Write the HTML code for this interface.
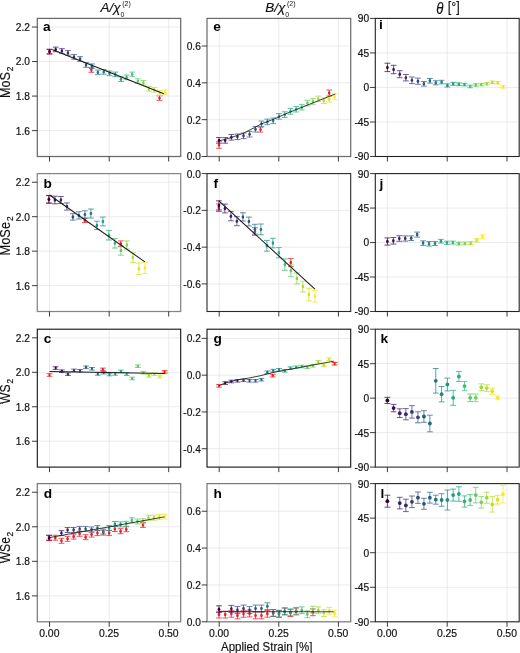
<!DOCTYPE html>
<html lang="en"><head><meta charset="utf-8"><title>Figure</title>
<style>html,body{margin:0;padding:0;background:#fff}svg{display:block}</style>
</head><body>
<svg width="520" height="653" viewBox="0 0 520 653" font-family='"Liberation Sans", sans-serif'>
<rect width="520" height="653" fill="#fff"/>
<g>
<path d="M49.5 18.4V156.5M109.2 18.4V156.5M168.7 18.4V156.5M37.3 27.03H180.7M37.3 61.56H180.7M37.3 96.08H180.7M37.3 130.61H180.7" stroke="#e2e2e2" stroke-width="0.7" fill="none"/>
<g stroke="#ee1c25" stroke-width="0.75" fill="#ee1c25"><path d="M49.5 49.5V54.1M46.6 49.5H52.4M46.6 54.1H52.4" fill="none"/><ellipse cx="49.5" cy="51.8" rx="1.25" ry="1.69" stroke="none"/></g>
<g stroke="#ee1c25" stroke-width="0.75" fill="#ee1c25"><path d="M91.4 67.7V72.3M88.5 67.7H94.3M88.5 72.3H94.3" fill="none"/><ellipse cx="91.4" cy="70" rx="1.25" ry="1.69" stroke="none"/></g>
<g stroke="#ee1c25" stroke-width="0.75" fill="#ee1c25"><path d="M159.5 95.8V100.4M156.6 95.8H162.4M156.6 100.4H162.4" fill="none"/><ellipse cx="159.5" cy="98.1" rx="1.25" ry="1.69" stroke="none"/></g>
<g stroke="#440154" stroke-width="0.75" fill="#32003e"><path d="M49.5 49.2V53.8M46.6 49.2H52.4M46.6 53.8H52.4" fill="none"/><ellipse cx="49.5" cy="51.5" rx="1.25" ry="1.69" stroke="none"/></g>
<g stroke="#471365" stroke-width="0.75" fill="#360e4d"><path d="M55.7 47.1V51.7M52.8 47.1H58.6M52.8 51.7H58.6" fill="none"/><ellipse cx="55.7" cy="49.4" rx="1.25" ry="1.69" stroke="none"/></g>
<g stroke="#482475" stroke-width="0.75" fill="#381c5c"><path d="M61.85 48.7V53.3M58.95 48.7H64.75M58.95 53.3H64.75" fill="none"/><ellipse cx="61.85" cy="51" rx="1.25" ry="1.69" stroke="none"/></g>
<g stroke="#463480" stroke-width="0.75" fill="#382a67"><path d="M67.96 50.6V55.2M65.06 50.6H70.86M65.06 55.2H70.86" fill="none"/><ellipse cx="67.96" cy="52.9" rx="1.25" ry="1.69" stroke="none"/></g>
<g stroke="#414487" stroke-width="0.75" fill="#363870"><path d="M74.03 54.6V59.2M71.13 54.6H76.93M71.13 59.2H76.93" fill="none"/><ellipse cx="74.03" cy="56.9" rx="1.25" ry="1.69" stroke="none"/></g>
<g stroke="#3b528b" stroke-width="0.75" fill="#324677"><path d="M80.05 56.7V61.3M77.15 56.7H82.95M77.15 61.3H82.95" fill="none"/><ellipse cx="80.05" cy="59" rx="1.25" ry="1.69" stroke="none"/></g>
<g stroke="#355f8d" stroke-width="0.75" fill="#2e537c"><path d="M86.03 62.7V67.3M83.13 62.7H88.93M83.13 67.3H88.93" fill="none"/><ellipse cx="86.03" cy="65" rx="1.25" ry="1.69" stroke="none"/></g>
<g stroke="#2f6c8e" stroke-width="0.75" fill="#2a6180"><path d="M91.96 63.95V68.55M89.06 63.95H94.86M89.06 68.55H94.86" fill="none"/><ellipse cx="91.96" cy="66.25" rx="1.25" ry="1.69" stroke="none"/></g>
<g stroke="#2a788e" stroke-width="0.75" fill="#276f83"><path d="M97.85 70.1V74.7M94.95 70.1H100.75M94.95 74.7H100.75" fill="none"/><ellipse cx="97.85" cy="72.4" rx="1.25" ry="1.69" stroke="none"/></g>
<g stroke="#25848e" stroke-width="0.75" fill="#237d87"><path d="M103.7 69.6V74.2M100.8 69.6H106.6M100.8 74.2H106.6" fill="none"/><ellipse cx="103.7" cy="71.9" rx="1.25" ry="1.69" stroke="none"/></g>
<g stroke="#21918c" stroke-width="0.75" fill="#208d88"><path d="M109.5 71V75.6M106.6 71H112.4M106.6 75.6H112.4" fill="none"/><ellipse cx="109.5" cy="73.3" rx="1.25" ry="1.69" stroke="none"/></g>
<g stroke="#1e9c89" stroke-width="0.75" fill="#1e9c89"><path d="M115.26 72.1V76.7M112.36 72.1H118.16M112.36 76.7H118.16" fill="none"/><ellipse cx="115.26" cy="74.4" rx="1.25" ry="1.69" stroke="none"/></g>
<g stroke="#22a884" stroke-width="0.75" fill="#22a884"><path d="M120.97 76.9V81.5M118.07 76.9H123.87M118.07 81.5H123.87" fill="none"/><ellipse cx="120.97" cy="79.2" rx="1.25" ry="1.69" stroke="none"/></g>
<g stroke="#2fb47c" stroke-width="0.75" fill="#2fb47c"><path d="M126.64 75.1V79.7M123.74 75.1H129.54M123.74 79.7H129.54" fill="none"/><ellipse cx="126.64" cy="77.4" rx="1.25" ry="1.69" stroke="none"/></g>
<g stroke="#44bf70" stroke-width="0.75" fill="#44bf70"><path d="M132.27 72.1V76.7M129.37 72.1H135.17M129.37 76.7H135.17" fill="none"/><ellipse cx="132.27" cy="74.4" rx="1.25" ry="1.69" stroke="none"/></g>
<g stroke="#5ec962" stroke-width="0.75" fill="#5ec962"><path d="M137.85 78.8V83.4M134.95 78.8H140.75M134.95 83.4H140.75" fill="none"/><ellipse cx="137.85" cy="81.1" rx="1.25" ry="1.69" stroke="none"/></g>
<g stroke="#7ad151" stroke-width="0.75" fill="#7ad151"><path d="M143.39 80.45V85.05M140.49 80.45H146.29M140.49 85.05H146.29" fill="none"/><ellipse cx="143.39" cy="82.75" rx="1.25" ry="1.69" stroke="none"/></g>
<g stroke="#9bd93c" stroke-width="0.75" fill="#9bd93c"><path d="M148.88 86.45V91.05M145.98 86.45H151.78M145.98 91.05H151.78" fill="none"/><ellipse cx="148.88" cy="88.75" rx="1.25" ry="1.69" stroke="none"/></g>
<g stroke="#bddf26" stroke-width="0.75" fill="#bddf26"><path d="M154.33 87.45V92.05M151.43 87.45H157.23M151.43 92.05H157.23" fill="none"/><ellipse cx="154.33" cy="89.75" rx="1.25" ry="1.69" stroke="none"/></g>
<g stroke="#dfe318" stroke-width="0.75" fill="#dfe318"><path d="M159.74 90.8V95.4M156.84 90.8H162.64M156.84 95.4H162.64" fill="none"/><ellipse cx="159.74" cy="93.1" rx="1.25" ry="1.69" stroke="none"/></g>
<g stroke="#fde725" stroke-width="0.75" fill="#fde725"><path d="M165.1 90.2V94.8M162.2 90.2H168M162.2 94.8H168" fill="none"/><ellipse cx="165.1" cy="92.5" rx="1.25" ry="1.69" stroke="none"/></g>
<path d="M52.5 49.8L163.8 93.8" stroke="#1a1a1a" stroke-width="1.05" fill="none" stroke-linejoin="round"/>
<rect x="37.3" y="18.4" width="143.4" height="138.1" fill="none" stroke="#6a6a6a" stroke-width="1.25"/>
<path d="M49.5 156.5v5M109.2 156.5v5M168.7 156.5v5M37.3 27.03h-5.3M37.3 61.56h-5.3M37.3 96.08h-5.3M37.3 130.61h-5.3" stroke="#262626" stroke-width="0.9" fill="none"/>
<text transform="translate(30 30.93) scale(0.91 1)" font-size="11.2" text-anchor="end" fill="#111" stroke="#111" stroke-width="0.2">2.2</text>
<text transform="translate(30 65.46) scale(0.91 1)" font-size="11.2" text-anchor="end" fill="#111" stroke="#111" stroke-width="0.2">2.0</text>
<text transform="translate(30 99.98) scale(0.91 1)" font-size="11.2" text-anchor="end" fill="#111" stroke="#111" stroke-width="0.2">1.8</text>
<text transform="translate(30 134.51) scale(0.91 1)" font-size="11.2" text-anchor="end" fill="#111" stroke="#111" stroke-width="0.2">1.6</text>
<text x="43" y="30.8" font-size="13.7" font-weight="bold" fill="#000">a</text>
</g>
<g>
<path d="M219.2 18.4V156.5M278.8 18.4V156.5M338.4 18.4V156.5M207 46.02H350.7M207 82.85H350.7M207 119.67H350.7" stroke="#e2e2e2" stroke-width="0.7" fill="none"/>
<g stroke="#ee1c25" stroke-width="0.75" fill="#ee1c25"><path d="M219 141.7V148.3M216.1 141.7H221.9M216.1 148.3H221.9" fill="none"/><ellipse cx="219" cy="145" rx="1.25" ry="1.69" stroke="none"/></g>
<g stroke="#ee1c25" stroke-width="0.75" fill="#ee1c25"><path d="M260.5 127.1V132.1M257.6 127.1H263.4M257.6 132.1H263.4" fill="none"/><ellipse cx="260.5" cy="129.6" rx="1.25" ry="1.69" stroke="none"/></g>
<g stroke="#ee1c25" stroke-width="0.75" fill="#ee1c25"><path d="M329.2 90V96M326.3 90H332.1M326.3 96H332.1" fill="none"/><ellipse cx="329.2" cy="93" rx="1.25" ry="1.69" stroke="none"/></g>
<g stroke="#440154" stroke-width="0.75" fill="#32003e"><path d="M219 137.6V143.2M216.1 137.6H221.9M216.1 143.2H221.9" fill="none"/><ellipse cx="219" cy="140.4" rx="1.25" ry="1.69" stroke="none"/></g>
<g stroke="#471365" stroke-width="0.75" fill="#360e4d"><path d="M225.2 137.6V143.2M222.3 137.6H228.1M222.3 143.2H228.1" fill="none"/><ellipse cx="225.2" cy="140.4" rx="1.25" ry="1.69" stroke="none"/></g>
<g stroke="#482475" stroke-width="0.75" fill="#381c5c"><path d="M231.35 134.5V140.1M228.45 134.5H234.25M228.45 140.1H234.25" fill="none"/><ellipse cx="231.35" cy="137.3" rx="1.25" ry="1.69" stroke="none"/></g>
<g stroke="#463480" stroke-width="0.75" fill="#382a67"><path d="M237.46 134V139.6M234.56 134H240.36M234.56 139.6H240.36" fill="none"/><ellipse cx="237.46" cy="136.8" rx="1.25" ry="1.69" stroke="none"/></g>
<g stroke="#414487" stroke-width="0.75" fill="#363870"><path d="M243.53 133V138.6M240.63 133H246.43M240.63 138.6H246.43" fill="none"/><ellipse cx="243.53" cy="135.8" rx="1.25" ry="1.69" stroke="none"/></g>
<g stroke="#3b528b" stroke-width="0.75" fill="#324677"><path d="M249.55 131.4V137M246.65 131.4H252.45M246.65 137H252.45" fill="none"/><ellipse cx="249.55" cy="134.2" rx="1.25" ry="1.69" stroke="none"/></g>
<g stroke="#355f8d" stroke-width="0.75" fill="#2e537c"><path d="M255.53 126.4V132M252.63 126.4H258.43M252.63 132H258.43" fill="none"/><ellipse cx="255.53" cy="129.2" rx="1.25" ry="1.69" stroke="none"/></g>
<g stroke="#2f6c8e" stroke-width="0.75" fill="#2a6180"><path d="M261.46 121.1V126.7M258.56 121.1H264.36M258.56 126.7H264.36" fill="none"/><ellipse cx="261.46" cy="123.9" rx="1.25" ry="1.69" stroke="none"/></g>
<g stroke="#2a788e" stroke-width="0.75" fill="#276f83"><path d="M267.35 119.1V124.7M264.45 119.1H270.25M264.45 124.7H270.25" fill="none"/><ellipse cx="267.35" cy="121.9" rx="1.25" ry="1.69" stroke="none"/></g>
<g stroke="#25848e" stroke-width="0.75" fill="#237d87"><path d="M273.2 118V123.6M270.3 118H276.1M270.3 123.6H276.1" fill="none"/><ellipse cx="273.2" cy="120.8" rx="1.25" ry="1.69" stroke="none"/></g>
<g stroke="#21918c" stroke-width="0.75" fill="#208d88"><path d="M279 113.6V119.2M276.1 113.6H281.9M276.1 119.2H281.9" fill="none"/><ellipse cx="279" cy="116.4" rx="1.25" ry="1.69" stroke="none"/></g>
<g stroke="#1e9c89" stroke-width="0.75" fill="#1e9c89"><path d="M284.76 111.8V117.4M281.86 111.8H287.66M281.86 117.4H287.66" fill="none"/><ellipse cx="284.76" cy="114.6" rx="1.25" ry="1.69" stroke="none"/></g>
<g stroke="#22a884" stroke-width="0.75" fill="#22a884"><path d="M290.47 108.6V114.2M287.57 108.6H293.37M287.57 114.2H293.37" fill="none"/><ellipse cx="290.47" cy="111.4" rx="1.25" ry="1.69" stroke="none"/></g>
<g stroke="#2fb47c" stroke-width="0.75" fill="#2fb47c"><path d="M296.14 106.4V112M293.24 106.4H299.04M293.24 112H299.04" fill="none"/><ellipse cx="296.14" cy="109.2" rx="1.25" ry="1.69" stroke="none"/></g>
<g stroke="#44bf70" stroke-width="0.75" fill="#44bf70"><path d="M301.77 104.4V110M298.87 104.4H304.67M298.87 110H304.67" fill="none"/><ellipse cx="301.77" cy="107.2" rx="1.25" ry="1.69" stroke="none"/></g>
<g stroke="#5ec962" stroke-width="0.75" fill="#5ec962"><path d="M307.35 100.3V105.9M304.45 100.3H310.25M304.45 105.9H310.25" fill="none"/><ellipse cx="307.35" cy="103.1" rx="1.25" ry="1.69" stroke="none"/></g>
<g stroke="#7ad151" stroke-width="0.75" fill="#7ad151"><path d="M312.89 98.7V104.3M309.99 98.7H315.79M309.99 104.3H315.79" fill="none"/><ellipse cx="312.89" cy="101.5" rx="1.25" ry="1.69" stroke="none"/></g>
<g stroke="#9bd93c" stroke-width="0.75" fill="#9bd93c"><path d="M318.38 96.1V101.7M315.48 96.1H321.28M315.48 101.7H321.28" fill="none"/><ellipse cx="318.38" cy="98.9" rx="1.25" ry="1.69" stroke="none"/></g>
<g stroke="#bddf26" stroke-width="0.75" fill="#bddf26"><path d="M323.83 98V103.6M320.93 98H326.73M320.93 103.6H326.73" fill="none"/><ellipse cx="323.83" cy="100.8" rx="1.25" ry="1.69" stroke="none"/></g>
<g stroke="#dfe318" stroke-width="0.75" fill="#dfe318"><path d="M329.24 96.4V102M326.34 96.4H332.14M326.34 102H332.14" fill="none"/><ellipse cx="329.24" cy="99.2" rx="1.25" ry="1.69" stroke="none"/></g>
<g stroke="#fde725" stroke-width="0.75" fill="#fde725"><path d="M334.6 94.1V99.7M331.7 94.1H337.5M331.7 99.7H337.5" fill="none"/><ellipse cx="334.6" cy="96.9" rx="1.25" ry="1.69" stroke="none"/></g>
<path d="M218.9 141L231 137.6L243 133.4L254.5 127.6L260.5 124.3L274 119L290 112L335.3 94" stroke="#1a1a1a" stroke-width="0.85" fill="none" stroke-linejoin="round"/>
<rect x="207" y="18.4" width="143.7" height="138.1" fill="none" stroke="#6e6e6e" stroke-width="1.25"/>
<path d="M219.2 156.5v5M278.8 156.5v5M338.4 156.5v5M207 46.02h-5.3M207 82.85h-5.3M207 119.67h-5.3M207 156.5h-5.3" stroke="#262626" stroke-width="0.9" fill="none"/>
<text transform="translate(200.8 49.92) scale(0.91 1)" font-size="11.2" text-anchor="end" fill="#111" stroke="#111" stroke-width="0.2">0.6</text>
<text transform="translate(200.8 86.75) scale(0.91 1)" font-size="11.2" text-anchor="end" fill="#111" stroke="#111" stroke-width="0.2">0.4</text>
<text transform="translate(200.8 123.57) scale(0.91 1)" font-size="11.2" text-anchor="end" fill="#111" stroke="#111" stroke-width="0.2">0.2</text>
<text transform="translate(200.8 160.4) scale(0.91 1)" font-size="11.2" text-anchor="end" fill="#111" stroke="#111" stroke-width="0.2">0.0</text>
<text x="213.2" y="30.8" font-size="13.7" font-weight="bold" fill="#000">e</text>
</g>
<g>
<path d="M387.4 18.4V156.5M447.2 18.4V156.5M507 18.4V156.5M375.3 52.92H519.2M375.3 87.45H519.2M375.3 121.97H519.2" stroke="#e2e2e2" stroke-width="0.7" fill="none"/>
<g stroke="#440154" stroke-width="0.75" fill="#32003e"><path d="M387.4 63.2V71.6M384.5 63.2H390.3M384.5 71.6H390.3" fill="none"/><ellipse cx="387.4" cy="67.4" rx="1.3" ry="1.76" stroke="none"/></g>
<g stroke="#471365" stroke-width="0.75" fill="#360e4d"><path d="M393.6 65.3V73.7M390.7 65.3H396.5M390.7 73.7H396.5" fill="none"/><ellipse cx="393.6" cy="69.5" rx="1.3" ry="1.76" stroke="none"/></g>
<g stroke="#482475" stroke-width="0.75" fill="#381c5c"><path d="M399.75 70.7V77.7M396.85 70.7H402.65M396.85 77.7H402.65" fill="none"/><ellipse cx="399.75" cy="74.2" rx="1.3" ry="1.76" stroke="none"/></g>
<g stroke="#463480" stroke-width="0.75" fill="#382a67"><path d="M405.86 74.5V80.9M402.96 74.5H408.76M402.96 80.9H408.76" fill="none"/><ellipse cx="405.86" cy="77.7" rx="1.3" ry="1.76" stroke="none"/></g>
<g stroke="#414487" stroke-width="0.75" fill="#363870"><path d="M411.93 77V83.6M409.03 77H414.83M409.03 83.6H414.83" fill="none"/><ellipse cx="411.93" cy="80.3" rx="1.3" ry="1.76" stroke="none"/></g>
<g stroke="#3b528b" stroke-width="0.75" fill="#324677"><path d="M417.95 78.1V84.3M415.05 78.1H420.85M415.05 84.3H420.85" fill="none"/><ellipse cx="417.95" cy="81.2" rx="1.3" ry="1.76" stroke="none"/></g>
<g stroke="#355f8d" stroke-width="0.75" fill="#2e537c"><path d="M423.93 81.5V86.1M421.03 81.5H426.83M421.03 86.1H426.83" fill="none"/><ellipse cx="423.93" cy="83.8" rx="1.3" ry="1.76" stroke="none"/></g>
<g stroke="#2f6c8e" stroke-width="0.75" fill="#2a6180"><path d="M429.86 78.5V83.1M426.96 78.5H432.76M426.96 83.1H432.76" fill="none"/><ellipse cx="429.86" cy="80.8" rx="1.3" ry="1.76" stroke="none"/></g>
<g stroke="#2a788e" stroke-width="0.75" fill="#276f83"><path d="M435.75 80.7V84.9M432.85 80.7H438.65M432.85 84.9H438.65" fill="none"/><ellipse cx="435.75" cy="82.8" rx="1.3" ry="1.76" stroke="none"/></g>
<g stroke="#25848e" stroke-width="0.75" fill="#237d87"><path d="M441.6 80.3V83.9M438.7 80.3H444.5M438.7 83.9H444.5" fill="none"/><ellipse cx="441.6" cy="82.1" rx="1.3" ry="1.76" stroke="none"/></g>
<g stroke="#21918c" stroke-width="0.75" fill="#208d88"><path d="M447.4 83.8V87M444.5 83.8H450.3M444.5 87H450.3" fill="none"/><ellipse cx="447.4" cy="85.4" rx="1.3" ry="1.76" stroke="none"/></g>
<g stroke="#1e9c89" stroke-width="0.75" fill="#1e9c89"><path d="M453.16 82.3V85.3M450.26 82.3H456.06M450.26 85.3H456.06" fill="none"/><ellipse cx="453.16" cy="83.8" rx="1.3" ry="1.76" stroke="none"/></g>
<g stroke="#22a884" stroke-width="0.75" fill="#22a884"><path d="M458.87 82.9V85.7M455.97 82.9H461.77M455.97 85.7H461.77" fill="none"/><ellipse cx="458.87" cy="84.3" rx="1.3" ry="1.76" stroke="none"/></g>
<g stroke="#2fb47c" stroke-width="0.75" fill="#2fb47c"><path d="M464.54 83.3V85.9M461.64 83.3H467.44M461.64 85.9H467.44" fill="none"/><ellipse cx="464.54" cy="84.6" rx="1.3" ry="1.76" stroke="none"/></g>
<g stroke="#44bf70" stroke-width="0.75" fill="#44bf70"><path d="M470.17 85.2V87.8M467.27 85.2H473.07M467.27 87.8H473.07" fill="none"/><ellipse cx="470.17" cy="86.5" rx="1.3" ry="1.76" stroke="none"/></g>
<g stroke="#5ec962" stroke-width="0.75" fill="#5ec962"><path d="M475.75 83.7V86.1M472.85 83.7H478.65M472.85 86.1H478.65" fill="none"/><ellipse cx="475.75" cy="84.9" rx="1.3" ry="1.76" stroke="none"/></g>
<g stroke="#7ad151" stroke-width="0.75" fill="#7ad151"><path d="M481.29 83.4V85.8M478.39 83.4H484.19M478.39 85.8H484.19" fill="none"/><ellipse cx="481.29" cy="84.6" rx="1.3" ry="1.76" stroke="none"/></g>
<g stroke="#9bd93c" stroke-width="0.75" fill="#9bd93c"><path d="M486.78 82.6V85M483.88 82.6H489.68M483.88 85H489.68" fill="none"/><ellipse cx="486.78" cy="83.8" rx="1.3" ry="1.76" stroke="none"/></g>
<g stroke="#bddf26" stroke-width="0.75" fill="#bddf26"><path d="M492.23 81.1V83.5M489.33 81.1H495.13M489.33 83.5H495.13" fill="none"/><ellipse cx="492.23" cy="82.3" rx="1.3" ry="1.76" stroke="none"/></g>
<g stroke="#dfe318" stroke-width="0.75" fill="#dfe318"><path d="M497.64 81.6V84M494.74 81.6H500.54M494.74 84H500.54" fill="none"/><ellipse cx="497.64" cy="82.8" rx="1.3" ry="1.76" stroke="none"/></g>
<g stroke="#fde725" stroke-width="0.75" fill="#fde725"><path d="M503 85.7V88.1M500.1 85.7H505.9M500.1 88.1H505.9" fill="none"/><ellipse cx="503" cy="86.9" rx="1.3" ry="1.76" stroke="none"/></g>
<rect x="375.3" y="18.4" width="143.9" height="138.1" fill="none" stroke="#222222" stroke-width="1.1"/>
<path d="M387.4 156.5v5M447.2 156.5v5M507 156.5v5M375.3 18.4h-5.3M375.3 52.92h-5.3M375.3 87.45h-5.3M375.3 121.97h-5.3M375.3 156.5h-5.3" stroke="#262626" stroke-width="0.9" fill="none"/>
<text transform="translate(369.1 22.3) scale(0.91 1)" font-size="11.2" text-anchor="end" fill="#111" stroke="#111" stroke-width="0.2">90</text>
<text transform="translate(369.1 56.82) scale(0.91 1)" font-size="11.2" text-anchor="end" fill="#111" stroke="#111" stroke-width="0.2">45</text>
<text transform="translate(369.1 91.35) scale(0.91 1)" font-size="11.2" text-anchor="end" fill="#111" stroke="#111" stroke-width="0.2">0</text>
<text transform="translate(369.1 125.88) scale(0.91 1)" font-size="11.2" text-anchor="end" fill="#111" stroke="#111" stroke-width="0.2">-45</text>
<text transform="translate(369.1 160.4) scale(0.91 1)" font-size="11.2" text-anchor="end" fill="#111" stroke="#111" stroke-width="0.2">-90</text>
<text x="379" y="29" font-size="13.7" font-weight="bold" fill="#000">i</text>
</g>
<g>
<path d="M49.5 173.6V311.5M109.2 173.6V311.5M168.7 173.6V311.5M37.3 182.22H180.7M37.3 216.69H180.7M37.3 251.17H180.7M37.3 285.64H180.7" stroke="#e2e2e2" stroke-width="0.7" fill="none"/>
<g stroke="#ee1c25" stroke-width="0.75" fill="#ee1c25"><path d="M48.9 195.7V203.3M46 195.7H51.8M46 203.3H51.8" fill="none"/><ellipse cx="48.9" cy="199.5" rx="1.3" ry="1.76" stroke="none"/></g>
<g stroke="#ee1c25" stroke-width="0.75" fill="#ee1c25"><path d="M84.9 218.1V222.5M82 218.1H87.8M82 222.5H87.8" fill="none"/><ellipse cx="84.9" cy="220.3" rx="1.3" ry="1.76" stroke="none"/></g>
<g stroke="#ee1c25" stroke-width="0.75" fill="#ee1c25"><path d="M120.8 240.9V246.7M117.9 240.9H123.7M117.9 246.7H123.7" fill="none"/><ellipse cx="120.8" cy="243.8" rx="1.3" ry="1.76" stroke="none"/></g>
<g stroke="#440154" stroke-width="0.75" fill="#32003e"><path d="M48.9 195.4V203M46 195.4H51.8M46 203H51.8" fill="none"/><ellipse cx="48.9" cy="199.2" rx="1.3" ry="1.76" stroke="none"/></g>
<g stroke="#48186a" stroke-width="0.75" fill="#371251"><path d="M54.9 196.2V203.8M52 196.2H57.8M52 203.8H57.8" fill="none"/><ellipse cx="54.9" cy="200" rx="1.3" ry="1.76" stroke="none"/></g>
<g stroke="#472d7b" stroke-width="0.75" fill="#382362"><path d="M60.9 196.5V203.5M58 196.5H63.8M58 203.5H63.8" fill="none"/><ellipse cx="60.9" cy="200" rx="1.3" ry="1.76" stroke="none"/></g>
<g stroke="#424086" stroke-width="0.75" fill="#36356f"><path d="M66.9 202.9V210.1M64 202.9H69.8M64 210.1H69.8" fill="none"/><ellipse cx="66.9" cy="206.5" rx="1.3" ry="1.76" stroke="none"/></g>
<g stroke="#3b528b" stroke-width="0.75" fill="#324677"><path d="M72.9 213.7V220.1M70 213.7H75.8M70 220.1H75.8" fill="none"/><ellipse cx="72.9" cy="216.9" rx="1.3" ry="1.76" stroke="none"/></g>
<g stroke="#33638d" stroke-width="0.75" fill="#2d577d"><path d="M78.9 211.8V219M76 211.8H81.8M76 219H81.8" fill="none"/><ellipse cx="78.9" cy="215.4" rx="1.3" ry="1.76" stroke="none"/></g>
<g stroke="#2c728e" stroke-width="0.75" fill="#286882"><path d="M84.9 210.8V218.4M82 210.8H87.8M82 218.4H87.8" fill="none"/><ellipse cx="84.9" cy="214.6" rx="1.3" ry="1.76" stroke="none"/></g>
<g stroke="#26828e" stroke-width="0.75" fill="#237b86"><path d="M90.9 209V218M88 209H93.8M88 218H93.8" fill="none"/><ellipse cx="90.9" cy="213.5" rx="1.3" ry="1.76" stroke="none"/></g>
<g stroke="#21918c" stroke-width="0.75" fill="#208d88"><path d="M96.9 221.2V229.6M94 221.2H99.8M94 229.6H99.8" fill="none"/><ellipse cx="96.9" cy="225.4" rx="1.3" ry="1.76" stroke="none"/></g>
<g stroke="#1fa088" stroke-width="0.75" fill="#1fa088"><path d="M102.9 217.1V225.9M100 217.1H105.8M100 225.9H105.8" fill="none"/><ellipse cx="102.9" cy="221.5" rx="1.3" ry="1.76" stroke="none"/></g>
<g stroke="#28ae80" stroke-width="0.75" fill="#28ae80"><path d="M108.9 230.4V240M106 230.4H111.8M106 240H111.8" fill="none"/><ellipse cx="108.9" cy="235.2" rx="1.3" ry="1.76" stroke="none"/></g>
<g stroke="#3fbc73" stroke-width="0.75" fill="#3fbc73"><path d="M114.9 238.6V248M112 238.6H117.8M112 248H117.8" fill="none"/><ellipse cx="114.9" cy="243.3" rx="1.3" ry="1.76" stroke="none"/></g>
<g stroke="#5ec962" stroke-width="0.75" fill="#5ec962"><path d="M120.9 245.6V255.2M118 245.6H123.8M118 255.2H123.8" fill="none"/><ellipse cx="120.9" cy="250.4" rx="1.3" ry="1.76" stroke="none"/></g>
<g stroke="#84d44b" stroke-width="0.75" fill="#84d44b"><path d="M126.9 240.9V249.1M124 240.9H129.8M124 249.1H129.8" fill="none"/><ellipse cx="126.9" cy="245" rx="1.3" ry="1.76" stroke="none"/></g>
<g stroke="#addc30" stroke-width="0.75" fill="#addc30"><path d="M132.9 252.8V262.4M130 252.8H135.8M130 262.4H135.8" fill="none"/><ellipse cx="132.9" cy="257.6" rx="1.3" ry="1.76" stroke="none"/></g>
<g stroke="#d8e219" stroke-width="0.75" fill="#d8e219"><path d="M138.9 263V274.6M136 263H141.8M136 274.6H141.8" fill="none"/><ellipse cx="138.9" cy="268.8" rx="1.3" ry="1.76" stroke="none"/></g>
<g stroke="#fde725" stroke-width="0.75" fill="#fde725"><path d="M144.9 262.5V273.5M142 262.5H147.8M142 273.5H147.8" fill="none"/><ellipse cx="144.9" cy="268" rx="1.3" ry="1.76" stroke="none"/></g>
<path d="M49.5 195L144.9 261.9" stroke="#1a1a1a" stroke-width="1.05" fill="none" stroke-linejoin="round"/>
<rect x="37.3" y="173.6" width="143.4" height="137.9" fill="none" stroke="#858585" stroke-width="1.25"/>
<path d="M49.5 311.5v5M109.2 311.5v5M168.7 311.5v5M37.3 182.22h-5.3M37.3 216.69h-5.3M37.3 251.17h-5.3M37.3 285.64h-5.3" stroke="#262626" stroke-width="0.9" fill="none"/>
<text transform="translate(30 186.12) scale(0.91 1)" font-size="11.2" text-anchor="end" fill="#111" stroke="#111" stroke-width="0.2">2.2</text>
<text transform="translate(30 220.59) scale(0.91 1)" font-size="11.2" text-anchor="end" fill="#111" stroke="#111" stroke-width="0.2">2.0</text>
<text transform="translate(30 255.07) scale(0.91 1)" font-size="11.2" text-anchor="end" fill="#111" stroke="#111" stroke-width="0.2">1.8</text>
<text transform="translate(30 289.54) scale(0.91 1)" font-size="11.2" text-anchor="end" fill="#111" stroke="#111" stroke-width="0.2">1.6</text>
<text x="43.6" y="188" font-size="13.7" font-weight="bold" fill="#000">b</text>
</g>
<g>
<path d="M219.2 173.6V311.5M278.8 173.6V311.5M338.4 173.6V311.5M207 210.37H350.7M207 247.15H350.7M207 283.92H350.7" stroke="#e2e2e2" stroke-width="0.7" fill="none"/>
<g stroke="#ee1c25" stroke-width="0.75" fill="#ee1c25"><path d="M218.9 203.9V211.5M216 203.9H221.8M216 211.5H221.8" fill="none"/><ellipse cx="218.9" cy="207.7" rx="1.3" ry="1.76" stroke="none"/></g>
<g stroke="#ee1c25" stroke-width="0.75" fill="#ee1c25"><path d="M254.9 227.7V235.3M252 227.7H257.8M252 235.3H257.8" fill="none"/><ellipse cx="254.9" cy="231.5" rx="1.3" ry="1.76" stroke="none"/></g>
<g stroke="#ee1c25" stroke-width="0.75" fill="#ee1c25"><path d="M290.8 258.6V266.6M287.9 258.6H293.7M287.9 266.6H293.7" fill="none"/><ellipse cx="290.8" cy="262.6" rx="1.3" ry="1.76" stroke="none"/></g>
<g stroke="#440154" stroke-width="0.75" fill="#32003e"><path d="M218.9 200.8V210M216 200.8H221.8M216 210H221.8" fill="none"/><ellipse cx="218.9" cy="205.4" rx="1.3" ry="1.76" stroke="none"/></g>
<g stroke="#48186a" stroke-width="0.75" fill="#371251"><path d="M224.9 204.1V212.9M222 204.1H227.8M222 212.9H227.8" fill="none"/><ellipse cx="224.9" cy="208.5" rx="1.3" ry="1.76" stroke="none"/></g>
<g stroke="#472d7b" stroke-width="0.75" fill="#382362"><path d="M230.9 211.6V220.8M228 211.6H233.8M228 220.8H233.8" fill="none"/><ellipse cx="230.9" cy="216.2" rx="1.3" ry="1.76" stroke="none"/></g>
<g stroke="#424086" stroke-width="0.75" fill="#36356f"><path d="M236.9 216.7V225.7M234 216.7H239.8M234 225.7H239.8" fill="none"/><ellipse cx="236.9" cy="221.2" rx="1.3" ry="1.76" stroke="none"/></g>
<g stroke="#3b528b" stroke-width="0.75" fill="#324677"><path d="M242.9 212.8V221M240 212.8H245.8M240 221H245.8" fill="none"/><ellipse cx="242.9" cy="216.9" rx="1.3" ry="1.76" stroke="none"/></g>
<g stroke="#33638d" stroke-width="0.75" fill="#2d577d"><path d="M248.9 217.1V225.9M246 217.1H251.8M246 225.9H251.8" fill="none"/><ellipse cx="248.9" cy="221.5" rx="1.3" ry="1.76" stroke="none"/></g>
<g stroke="#2c728e" stroke-width="0.75" fill="#286882"><path d="M254.9 224.3V234.1M252 224.3H257.8M252 234.1H257.8" fill="none"/><ellipse cx="254.9" cy="229.2" rx="1.3" ry="1.76" stroke="none"/></g>
<g stroke="#26828e" stroke-width="0.75" fill="#237b86"><path d="M260.9 224V234.8M258 224H263.8M258 234.8H263.8" fill="none"/><ellipse cx="260.9" cy="229.4" rx="1.3" ry="1.76" stroke="none"/></g>
<g stroke="#21918c" stroke-width="0.75" fill="#208d88"><path d="M266.9 240.4V251.2M264 240.4H269.8M264 251.2H269.8" fill="none"/><ellipse cx="266.9" cy="245.8" rx="1.3" ry="1.76" stroke="none"/></g>
<g stroke="#1fa088" stroke-width="0.75" fill="#1fa088"><path d="M272.9 238.3V247.9M270 238.3H275.8M270 247.9H275.8" fill="none"/><ellipse cx="272.9" cy="243.1" rx="1.3" ry="1.76" stroke="none"/></g>
<g stroke="#28ae80" stroke-width="0.75" fill="#28ae80"><path d="M278.9 247.6V257.8M276 247.6H281.8M276 257.8H281.8" fill="none"/><ellipse cx="278.9" cy="252.7" rx="1.3" ry="1.76" stroke="none"/></g>
<g stroke="#3fbc73" stroke-width="0.75" fill="#3fbc73"><path d="M284.9 258.9V270.3M282 258.9H287.8M282 270.3H287.8" fill="none"/><ellipse cx="284.9" cy="264.6" rx="1.3" ry="1.76" stroke="none"/></g>
<g stroke="#5ec962" stroke-width="0.75" fill="#5ec962"><path d="M290.9 264.9V276.7M288 264.9H293.8M288 276.7H293.8" fill="none"/><ellipse cx="290.9" cy="270.8" rx="1.3" ry="1.76" stroke="none"/></g>
<g stroke="#84d44b" stroke-width="0.75" fill="#84d44b"><path d="M296.9 273V284M294 273H299.8M294 284H299.8" fill="none"/><ellipse cx="296.9" cy="278.5" rx="1.3" ry="1.76" stroke="none"/></g>
<g stroke="#addc30" stroke-width="0.75" fill="#addc30"><path d="M302.9 281.2V292M300 281.2H305.8M300 292H305.8" fill="none"/><ellipse cx="302.9" cy="286.6" rx="1.3" ry="1.76" stroke="none"/></g>
<g stroke="#d8e219" stroke-width="0.75" fill="#d8e219"><path d="M308.9 288.3V300.9M306 288.3H311.8M306 300.9H311.8" fill="none"/><ellipse cx="308.9" cy="294.6" rx="1.3" ry="1.76" stroke="none"/></g>
<g stroke="#fde725" stroke-width="0.75" fill="#fde725"><path d="M314.9 290.4V302M312 290.4H317.8M312 302H317.8" fill="none"/><ellipse cx="314.9" cy="296.2" rx="1.3" ry="1.76" stroke="none"/></g>
<path d="M218.9 200.8L314.9 289.2" stroke="#1a1a1a" stroke-width="1.05" fill="none" stroke-linejoin="round"/>
<rect x="207" y="173.6" width="143.7" height="137.9" fill="none" stroke="#2a2a2a" stroke-width="1.1"/>
<path d="M219.2 311.5v5M278.8 311.5v5M338.4 311.5v5M207 173.6h-5.3M207 210.37h-5.3M207 247.15h-5.3M207 283.92h-5.3" stroke="#262626" stroke-width="0.9" fill="none"/>
<text transform="translate(200.8 177.5) scale(0.91 1)" font-size="11.2" text-anchor="end" fill="#111" stroke="#111" stroke-width="0.2">0.0</text>
<text transform="translate(200.8 214.27) scale(0.91 1)" font-size="11.2" text-anchor="end" fill="#111" stroke="#111" stroke-width="0.2">-0.2</text>
<text transform="translate(200.8 251.05) scale(0.91 1)" font-size="11.2" text-anchor="end" fill="#111" stroke="#111" stroke-width="0.2">-0.4</text>
<text transform="translate(200.8 287.82) scale(0.91 1)" font-size="11.2" text-anchor="end" fill="#111" stroke="#111" stroke-width="0.2">-0.6</text>
<text x="213.6" y="187.9" font-size="13.7" font-weight="bold" fill="#000">f</text>
</g>
<g>
<path d="M387.4 173.6V311.5M447.2 173.6V311.5M507 173.6V311.5M375.3 208.07H519.2M375.3 242.55H519.2M375.3 277.02H519.2" stroke="#e2e2e2" stroke-width="0.7" fill="none"/>
<g stroke="#440154" stroke-width="0.75" fill="#32003e"><path d="M387.4 237.9V245.1M384.5 237.9H390.3M384.5 245.1H390.3" fill="none"/><ellipse cx="387.4" cy="241.5" rx="1.3" ry="1.76" stroke="none"/></g>
<g stroke="#48186a" stroke-width="0.75" fill="#371251"><path d="M393.35 237.5V244.1M390.45 237.5H396.25M390.45 244.1H396.25" fill="none"/><ellipse cx="393.35" cy="240.8" rx="1.3" ry="1.76" stroke="none"/></g>
<g stroke="#472d7b" stroke-width="0.75" fill="#382362"><path d="M399.3 235.7V241.3M396.4 235.7H402.2M396.4 241.3H402.2" fill="none"/><ellipse cx="399.3" cy="238.5" rx="1.3" ry="1.76" stroke="none"/></g>
<g stroke="#424086" stroke-width="0.75" fill="#36356f"><path d="M405.25 235.9V241.1M402.35 235.9H408.15M402.35 241.1H408.15" fill="none"/><ellipse cx="405.25" cy="238.5" rx="1.3" ry="1.76" stroke="none"/></g>
<g stroke="#3b528b" stroke-width="0.75" fill="#324677"><path d="M411.2 235.9V240.5M408.3 235.9H414.1M408.3 240.5H414.1" fill="none"/><ellipse cx="411.2" cy="238.2" rx="1.3" ry="1.76" stroke="none"/></g>
<g stroke="#33638d" stroke-width="0.75" fill="#2d577d"><path d="M417.15 232.1V237.1M414.25 232.1H420.05M414.25 237.1H420.05" fill="none"/><ellipse cx="417.15" cy="234.6" rx="1.3" ry="1.76" stroke="none"/></g>
<g stroke="#2c728e" stroke-width="0.75" fill="#286882"><path d="M423.1 240.8V245.4M420.2 240.8H426M420.2 245.4H426" fill="none"/><ellipse cx="423.1" cy="243.1" rx="1.3" ry="1.76" stroke="none"/></g>
<g stroke="#26828e" stroke-width="0.75" fill="#237b86"><path d="M429.05 241.5V246.1M426.15 241.5H431.95M426.15 246.1H431.95" fill="none"/><ellipse cx="429.05" cy="243.8" rx="1.3" ry="1.76" stroke="none"/></g>
<g stroke="#21918c" stroke-width="0.75" fill="#208d88"><path d="M435 241.5V245.5M432.1 241.5H437.9M432.1 245.5H437.9" fill="none"/><ellipse cx="435" cy="243.5" rx="1.3" ry="1.76" stroke="none"/></g>
<g stroke="#1fa088" stroke-width="0.75" fill="#1fa088"><path d="M440.95 239.4V243M438.05 239.4H443.85M438.05 243H443.85" fill="none"/><ellipse cx="440.95" cy="241.2" rx="1.3" ry="1.76" stroke="none"/></g>
<g stroke="#28ae80" stroke-width="0.75" fill="#28ae80"><path d="M446.9 241.2V244.4M444 241.2H449.8M444 244.4H449.8" fill="none"/><ellipse cx="446.9" cy="242.8" rx="1.3" ry="1.76" stroke="none"/></g>
<g stroke="#3fbc73" stroke-width="0.75" fill="#3fbc73"><path d="M452.85 241.1V244.1M449.95 241.1H455.75M449.95 244.1H455.75" fill="none"/><ellipse cx="452.85" cy="242.6" rx="1.3" ry="1.76" stroke="none"/></g>
<g stroke="#5ec962" stroke-width="0.75" fill="#5ec962"><path d="M458.8 242.2V245M455.9 242.2H461.7M455.9 245H461.7" fill="none"/><ellipse cx="458.8" cy="243.6" rx="1.3" ry="1.76" stroke="none"/></g>
<g stroke="#84d44b" stroke-width="0.75" fill="#84d44b"><path d="M464.75 242V244.8M461.85 242H467.65M461.85 244.8H467.65" fill="none"/><ellipse cx="464.75" cy="243.4" rx="1.3" ry="1.76" stroke="none"/></g>
<g stroke="#addc30" stroke-width="0.75" fill="#addc30"><path d="M470.7 241.7V244.5M467.8 241.7H473.6M467.8 244.5H473.6" fill="none"/><ellipse cx="470.7" cy="243.1" rx="1.3" ry="1.76" stroke="none"/></g>
<g stroke="#d8e219" stroke-width="0.75" fill="#d8e219"><path d="M476.65 238.7V241.9M473.75 238.7H479.55M473.75 241.9H479.55" fill="none"/><ellipse cx="476.65" cy="240.3" rx="1.3" ry="1.76" stroke="none"/></g>
<g stroke="#fde725" stroke-width="0.75" fill="#fde725"><path d="M482.6 234.8V238.4M479.7 234.8H485.5M479.7 238.4H485.5" fill="none"/><ellipse cx="482.6" cy="236.6" rx="1.3" ry="1.76" stroke="none"/></g>
<rect x="375.3" y="173.6" width="143.9" height="137.9" fill="none" stroke="#222222" stroke-width="1.1"/>
<path d="M387.4 311.5v5M447.2 311.5v5M507 311.5v5M375.3 173.6h-5.3M375.3 208.07h-5.3M375.3 242.55h-5.3M375.3 277.02h-5.3M375.3 311.5h-5.3" stroke="#262626" stroke-width="0.9" fill="none"/>
<text transform="translate(369.1 177.5) scale(0.91 1)" font-size="11.2" text-anchor="end" fill="#111" stroke="#111" stroke-width="0.2">90</text>
<text transform="translate(369.1 211.97) scale(0.91 1)" font-size="11.2" text-anchor="end" fill="#111" stroke="#111" stroke-width="0.2">45</text>
<text transform="translate(369.1 246.45) scale(0.91 1)" font-size="11.2" text-anchor="end" fill="#111" stroke="#111" stroke-width="0.2">0</text>
<text transform="translate(369.1 280.92) scale(0.91 1)" font-size="11.2" text-anchor="end" fill="#111" stroke="#111" stroke-width="0.2">-45</text>
<text transform="translate(369.1 315.4) scale(0.91 1)" font-size="11.2" text-anchor="end" fill="#111" stroke="#111" stroke-width="0.2">-90</text>
<text x="379.6" y="188.1" font-size="13.7" font-weight="bold" fill="#000">j</text>
</g>
<g>
<path d="M49.5 329.2V467.1M109.2 329.2V467.1M168.7 329.2V467.1M37.3 337.82H180.7M37.3 372.29H180.7M37.3 406.77H180.7M37.3 441.24H180.7" stroke="#e2e2e2" stroke-width="0.7" fill="none"/>
<g stroke="#471365" stroke-width="0.75" fill="#360e4d"><path d="M55.7 366.8V369.4M52.8 366.8H58.6M52.8 369.4H58.6" fill="none"/><ellipse cx="55.7" cy="368.1" rx="1.1" ry="1.49" stroke="none"/></g>
<g stroke="#482475" stroke-width="0.75" fill="#381c5c"><path d="M61.85 369.9V372.5M58.95 369.9H64.75M58.95 372.5H64.75" fill="none"/><ellipse cx="61.85" cy="371.2" rx="1.1" ry="1.49" stroke="none"/></g>
<g stroke="#463480" stroke-width="0.75" fill="#382a67"><path d="M67.96 372.9V375.5M65.06 372.9H70.86M65.06 375.5H70.86" fill="none"/><ellipse cx="67.96" cy="374.2" rx="1.1" ry="1.49" stroke="none"/></g>
<g stroke="#414487" stroke-width="0.75" fill="#363870"><path d="M74.03 369.1V371.7M71.13 369.1H76.93M71.13 371.7H76.93" fill="none"/><ellipse cx="74.03" cy="370.4" rx="1.1" ry="1.49" stroke="none"/></g>
<g stroke="#3b528b" stroke-width="0.75" fill="#324677"><path d="M80.05 369.5V372.1M77.15 369.5H82.95M77.15 372.1H82.95" fill="none"/><ellipse cx="80.05" cy="370.8" rx="1.1" ry="1.49" stroke="none"/></g>
<g stroke="#355f8d" stroke-width="0.75" fill="#2e537c"><path d="M86.03 366V368.6M83.13 366H88.93M83.13 368.6H88.93" fill="none"/><ellipse cx="86.03" cy="367.3" rx="1.1" ry="1.49" stroke="none"/></g>
<g stroke="#2f6c8e" stroke-width="0.75" fill="#2a6180"><path d="M91.96 367.5V370.1M89.06 367.5H94.86M89.06 370.1H94.86" fill="none"/><ellipse cx="91.96" cy="368.8" rx="1.1" ry="1.49" stroke="none"/></g>
<g stroke="#2a788e" stroke-width="0.75" fill="#276f83"><path d="M97.85 372.6V375.2M94.95 372.6H100.75M94.95 375.2H100.75" fill="none"/><ellipse cx="97.85" cy="373.9" rx="1.1" ry="1.49" stroke="none"/></g>
<g stroke="#25848e" stroke-width="0.75" fill="#237d87"><path d="M103.7 371.4V374M100.8 371.4H106.6M100.8 374H106.6" fill="none"/><ellipse cx="103.7" cy="372.7" rx="1.1" ry="1.49" stroke="none"/></g>
<g stroke="#21918c" stroke-width="0.75" fill="#208d88"><path d="M109.5 373.2V375.8M106.6 373.2H112.4M106.6 375.8H112.4" fill="none"/><ellipse cx="109.5" cy="374.5" rx="1.1" ry="1.49" stroke="none"/></g>
<g stroke="#1e9c89" stroke-width="0.75" fill="#1e9c89"><path d="M115.26 372.6V375.2M112.36 372.6H118.16M112.36 375.2H118.16" fill="none"/><ellipse cx="115.26" cy="373.9" rx="1.1" ry="1.49" stroke="none"/></g>
<g stroke="#22a884" stroke-width="0.75" fill="#22a884"><path d="M120.97 370.1V372.7M118.07 370.1H123.87M118.07 372.7H123.87" fill="none"/><ellipse cx="120.97" cy="371.4" rx="1.1" ry="1.49" stroke="none"/></g>
<g stroke="#2fb47c" stroke-width="0.75" fill="#2fb47c"><path d="M126.64 372.9V375.5M123.74 372.9H129.54M123.74 375.5H129.54" fill="none"/><ellipse cx="126.64" cy="374.2" rx="1.1" ry="1.49" stroke="none"/></g>
<g stroke="#44bf70" stroke-width="0.75" fill="#44bf70"><path d="M132.27 377.2V379.8M129.37 377.2H135.17M129.37 379.8H135.17" fill="none"/><ellipse cx="132.27" cy="378.5" rx="1.1" ry="1.49" stroke="none"/></g>
<g stroke="#5ec962" stroke-width="0.75" fill="#5ec962"><path d="M137.85 364.9V367.5M134.95 364.9H140.75M134.95 367.5H140.75" fill="none"/><ellipse cx="137.85" cy="366.2" rx="1.1" ry="1.49" stroke="none"/></g>
<g stroke="#7ad151" stroke-width="0.75" fill="#7ad151"><path d="M143.39 371.4V374M140.49 371.4H146.29M140.49 374H146.29" fill="none"/><ellipse cx="143.39" cy="372.7" rx="1.1" ry="1.49" stroke="none"/></g>
<g stroke="#9bd93c" stroke-width="0.75" fill="#9bd93c"><path d="M148.88 374.5V377.1M145.98 374.5H151.78M145.98 377.1H151.78" fill="none"/><ellipse cx="148.88" cy="375.8" rx="1.1" ry="1.49" stroke="none"/></g>
<g stroke="#bddf26" stroke-width="0.75" fill="#bddf26"><path d="M154.33 372.9V375.5M151.43 372.9H157.23M151.43 375.5H157.23" fill="none"/><ellipse cx="154.33" cy="374.2" rx="1.1" ry="1.49" stroke="none"/></g>
<g stroke="#dfe318" stroke-width="0.75" fill="#dfe318"><path d="M159.74 375.2V377.8M156.84 375.2H162.64M156.84 377.8H162.64" fill="none"/><ellipse cx="159.74" cy="376.5" rx="1.1" ry="1.49" stroke="none"/></g>
<g stroke="#fde725" stroke-width="0.75" fill="#fde725"><path d="M165.1 371.2V373.8M162.2 371.2H168M162.2 373.8H168" fill="none"/><ellipse cx="165.1" cy="372.5" rx="1.1" ry="1.49" stroke="none"/></g>
<g stroke="#ee1c25" stroke-width="0.75" fill="#ee1c25"><path d="M49.5 373.7V376.3M46.6 373.7H52.4M46.6 376.3H52.4" fill="none"/><ellipse cx="49.5" cy="375" rx="1.1" ry="1.49" stroke="none"/></g>
<g stroke="#ee1c25" stroke-width="0.75" fill="#ee1c25"><path d="M102.8 368.1V370.7M99.9 368.1H105.7M99.9 370.7H105.7" fill="none"/><ellipse cx="102.8" cy="369.4" rx="1.1" ry="1.49" stroke="none"/></g>
<g stroke="#ee1c25" stroke-width="0.75" fill="#ee1c25"><path d="M164.6 370.7V373.3M161.7 370.7H167.5M161.7 373.3H167.5" fill="none"/><ellipse cx="164.6" cy="372" rx="1.1" ry="1.49" stroke="none"/></g>
<path d="M49.5 371.5L164.6 373.5" stroke="#1a1a1a" stroke-width="1.05" fill="none" stroke-linejoin="round"/>
<rect x="37.3" y="329.2" width="143.4" height="137.9" fill="none" stroke="#111111" stroke-width="1.1"/>
<path d="M49.5 467.1v5M109.2 467.1v5M168.7 467.1v5M37.3 337.82h-5.3M37.3 372.29h-5.3M37.3 406.77h-5.3M37.3 441.24h-5.3" stroke="#262626" stroke-width="0.9" fill="none"/>
<text transform="translate(30 341.72) scale(0.91 1)" font-size="11.2" text-anchor="end" fill="#111" stroke="#111" stroke-width="0.2">2.2</text>
<text transform="translate(30 376.19) scale(0.91 1)" font-size="11.2" text-anchor="end" fill="#111" stroke="#111" stroke-width="0.2">2.0</text>
<text transform="translate(30 410.67) scale(0.91 1)" font-size="11.2" text-anchor="end" fill="#111" stroke="#111" stroke-width="0.2">1.8</text>
<text transform="translate(30 445.14) scale(0.91 1)" font-size="11.2" text-anchor="end" fill="#111" stroke="#111" stroke-width="0.2">1.6</text>
<text x="43.8" y="343.2" font-size="13.7" font-weight="bold" fill="#000">c</text>
</g>
<g>
<path d="M219.2 329.2V467.1M278.8 329.2V467.1M338.4 329.2V467.1M207 338.39H350.7M207 375.17H350.7M207 411.94H350.7M207 448.71H350.7" stroke="#e2e2e2" stroke-width="0.7" fill="none"/>
<g stroke="#471365" stroke-width="0.75" fill="#360e4d"><path d="M225.2 381.8V384.4M222.3 381.8H228.1M222.3 384.4H228.1" fill="none"/><ellipse cx="225.2" cy="383.1" rx="1.1" ry="1.49" stroke="none"/></g>
<g stroke="#482475" stroke-width="0.75" fill="#381c5c"><path d="M231.35 380.2V382.8M228.45 380.2H234.25M228.45 382.8H234.25" fill="none"/><ellipse cx="231.35" cy="381.5" rx="1.1" ry="1.49" stroke="none"/></g>
<g stroke="#463480" stroke-width="0.75" fill="#382a67"><path d="M237.46 379.5V382.1M234.56 379.5H240.36M234.56 382.1H240.36" fill="none"/><ellipse cx="237.46" cy="380.8" rx="1.1" ry="1.49" stroke="none"/></g>
<g stroke="#414487" stroke-width="0.75" fill="#363870"><path d="M243.53 379V381.6M240.63 379H246.43M240.63 381.6H246.43" fill="none"/><ellipse cx="243.53" cy="380.3" rx="1.1" ry="1.49" stroke="none"/></g>
<g stroke="#3b528b" stroke-width="0.75" fill="#324677"><path d="M249.55 379.5V382.1M246.65 379.5H252.45M246.65 382.1H252.45" fill="none"/><ellipse cx="249.55" cy="380.8" rx="1.1" ry="1.49" stroke="none"/></g>
<g stroke="#355f8d" stroke-width="0.75" fill="#2e537c"><path d="M255.53 379.5V382.1M252.63 379.5H258.43M252.63 382.1H258.43" fill="none"/><ellipse cx="255.53" cy="380.8" rx="1.1" ry="1.49" stroke="none"/></g>
<g stroke="#2f6c8e" stroke-width="0.75" fill="#2a6180"><path d="M261.46 378.4V381M258.56 378.4H264.36M258.56 381H264.36" fill="none"/><ellipse cx="261.46" cy="379.7" rx="1.1" ry="1.49" stroke="none"/></g>
<g stroke="#2a788e" stroke-width="0.75" fill="#276f83"><path d="M267.35 371V373.6M264.45 371H270.25M264.45 373.6H270.25" fill="none"/><ellipse cx="267.35" cy="372.3" rx="1.1" ry="1.49" stroke="none"/></g>
<g stroke="#25848e" stroke-width="0.75" fill="#237d87"><path d="M273.2 369.3V371.9M270.3 369.3H276.1M270.3 371.9H276.1" fill="none"/><ellipse cx="273.2" cy="370.6" rx="1.1" ry="1.49" stroke="none"/></g>
<g stroke="#21918c" stroke-width="0.75" fill="#208d88"><path d="M279 368.5V371.1M276.1 368.5H281.9M276.1 371.1H281.9" fill="none"/><ellipse cx="279" cy="369.8" rx="1.1" ry="1.49" stroke="none"/></g>
<g stroke="#1e9c89" stroke-width="0.75" fill="#1e9c89"><path d="M284.76 369.5V372.1M281.86 369.5H287.66M281.86 372.1H287.66" fill="none"/><ellipse cx="284.76" cy="370.8" rx="1.1" ry="1.49" stroke="none"/></g>
<g stroke="#22a884" stroke-width="0.75" fill="#22a884"><path d="M290.47 366.9V369.5M287.57 366.9H293.37M287.57 369.5H293.37" fill="none"/><ellipse cx="290.47" cy="368.2" rx="1.1" ry="1.49" stroke="none"/></g>
<g stroke="#2fb47c" stroke-width="0.75" fill="#2fb47c"><path d="M296.14 366V368.6M293.24 366H299.04M293.24 368.6H299.04" fill="none"/><ellipse cx="296.14" cy="367.3" rx="1.1" ry="1.49" stroke="none"/></g>
<g stroke="#44bf70" stroke-width="0.75" fill="#44bf70"><path d="M301.77 365.2V367.8M298.87 365.2H304.67M298.87 367.8H304.67" fill="none"/><ellipse cx="301.77" cy="366.5" rx="1.1" ry="1.49" stroke="none"/></g>
<g stroke="#5ec962" stroke-width="0.75" fill="#5ec962"><path d="M307.35 366V368.6M304.45 366H310.25M304.45 368.6H310.25" fill="none"/><ellipse cx="307.35" cy="367.3" rx="1.1" ry="1.49" stroke="none"/></g>
<g stroke="#7ad151" stroke-width="0.75" fill="#7ad151"><path d="M312.89 364.5V367.1M309.99 364.5H315.79M309.99 367.1H315.79" fill="none"/><ellipse cx="312.89" cy="365.8" rx="1.1" ry="1.49" stroke="none"/></g>
<g stroke="#9bd93c" stroke-width="0.75" fill="#9bd93c"><path d="M318.38 360.6V363.2M315.48 360.6H321.28M315.48 363.2H321.28" fill="none"/><ellipse cx="318.38" cy="361.9" rx="1.1" ry="1.49" stroke="none"/></g>
<g stroke="#bddf26" stroke-width="0.75" fill="#bddf26"><path d="M323.83 364V366.6M320.93 364H326.73M320.93 366.6H326.73" fill="none"/><ellipse cx="323.83" cy="365.3" rx="1.1" ry="1.49" stroke="none"/></g>
<g stroke="#dfe318" stroke-width="0.75" fill="#dfe318"><path d="M329.24 357.9V360.5M326.34 357.9H332.14M326.34 360.5H332.14" fill="none"/><ellipse cx="329.24" cy="359.2" rx="1.1" ry="1.49" stroke="none"/></g>
<g stroke="#fde725" stroke-width="0.75" fill="#fde725"><path d="M334.6 361.7V364.3M331.7 361.7H337.5M331.7 364.3H337.5" fill="none"/><ellipse cx="334.6" cy="363" rx="1.1" ry="1.49" stroke="none"/></g>
<g stroke="#ee1c25" stroke-width="0.75" fill="#ee1c25"><path d="M219 384.5V387.1M216.1 384.5H221.9M216.1 387.1H221.9" fill="none"/><ellipse cx="219" cy="385.8" rx="1.1" ry="1.49" stroke="none"/></g>
<g stroke="#ee1c25" stroke-width="0.75" fill="#ee1c25"><path d="M272.7 374.3V376.9M269.8 374.3H275.6M269.8 376.9H275.6" fill="none"/><ellipse cx="272.7" cy="375.6" rx="1.1" ry="1.49" stroke="none"/></g>
<g stroke="#ee1c25" stroke-width="0.75" fill="#ee1c25"><path d="M334.6 362.5V365.1M331.7 362.5H337.5M331.7 365.1H337.5" fill="none"/><ellipse cx="334.6" cy="363.8" rx="1.1" ry="1.49" stroke="none"/></g>
<path d="M219 385.8L225.5 382.9L237 380L248.6 378.1L260 375.8L274 372.3L290 369.2L333.8 361.2" stroke="#1a1a1a" stroke-width="0.85" fill="none" stroke-linejoin="round"/>
<rect x="207" y="329.2" width="143.7" height="137.9" fill="none" stroke="#111111" stroke-width="1.1"/>
<path d="M219.2 467.1v5M278.8 467.1v5M338.4 467.1v5M207 338.39h-5.3M207 375.17h-5.3M207 411.94h-5.3M207 448.71h-5.3" stroke="#262626" stroke-width="0.9" fill="none"/>
<text transform="translate(200.8 342.29) scale(0.91 1)" font-size="11.2" text-anchor="end" fill="#111" stroke="#111" stroke-width="0.2">0.2</text>
<text transform="translate(200.8 379.07) scale(0.91 1)" font-size="11.2" text-anchor="end" fill="#111" stroke="#111" stroke-width="0.2">0.0</text>
<text transform="translate(200.8 415.84) scale(0.91 1)" font-size="11.2" text-anchor="end" fill="#111" stroke="#111" stroke-width="0.2">-0.2</text>
<text transform="translate(200.8 452.61) scale(0.91 1)" font-size="11.2" text-anchor="end" fill="#111" stroke="#111" stroke-width="0.2">-0.4</text>
<text x="213.5" y="342.6" font-size="13.7" font-weight="bold" fill="#000">g</text>
</g>
<g>
<path d="M387.4 329.2V467.1M447.2 329.2V467.1M507 329.2V467.1M375.3 363.68H519.2M375.3 398.15H519.2M375.3 432.62H519.2" stroke="#e2e2e2" stroke-width="0.7" fill="none"/>
<g stroke="#440154" stroke-width="0.75" fill="#32003e"><path d="M387.4 397.3V403.5M384.5 397.3H390.3M384.5 403.5H390.3" fill="none"/><circle cx="387.4" cy="400.4" r="1.9" stroke="none"/></g>
<g stroke="#481467" stroke-width="0.75" fill="#370f4e"><path d="M393.6 404.4V411.8M390.7 404.4H396.5M390.7 411.8H396.5" fill="none"/><circle cx="393.6" cy="408.1" r="1.9" stroke="none"/></g>
<g stroke="#482576" stroke-width="0.75" fill="#381d5d"><path d="M399.75 408.8V417.6M396.85 408.8H402.65M396.85 417.6H402.65" fill="none"/><circle cx="399.75" cy="413.2" r="1.9" stroke="none"/></g>
<g stroke="#453781" stroke-width="0.75" fill="#382c69"><path d="M405.86 408.6V419.8M402.96 408.6H408.76M402.96 419.8H408.76" fill="none"/><circle cx="405.86" cy="414.2" r="1.9" stroke="none"/></g>
<g stroke="#404688" stroke-width="0.75" fill="#353a72"><path d="M411.93 405.7V418.1M409.03 405.7H414.83M409.03 418.1H414.83" fill="none"/><circle cx="411.93" cy="411.9" r="1.9" stroke="none"/></g>
<g stroke="#39558c" stroke-width="0.75" fill="#314979"><path d="M417.95 411.8V422.8M415.05 411.8H420.85M415.05 422.8H420.85" fill="none"/><circle cx="417.95" cy="417.3" r="1.9" stroke="none"/></g>
<g stroke="#33638d" stroke-width="0.75" fill="#2d587d"><path d="M423.93 410.7V422.3M421.03 410.7H426.83M421.03 422.3H426.83" fill="none"/><circle cx="423.93" cy="416.5" r="1.9" stroke="none"/></g>
<g stroke="#2d718e" stroke-width="0.75" fill="#296781"><path d="M429.86 415.2V431.8M426.96 415.2H432.76M426.96 431.8H432.76" fill="none"/><circle cx="429.86" cy="423.5" r="1.9" stroke="none"/></g>
<g stroke="#287d8e" stroke-width="0.75" fill="#257585"><path d="M435.75 368.5V393.1M432.85 368.5H438.65M432.85 393.1H438.65" fill="none"/><circle cx="435.75" cy="380.8" r="1.9" stroke="none"/></g>
<g stroke="#238a8d" stroke-width="0.75" fill="#218587"><path d="M441.6 386.5V401.9M438.7 386.5H444.5M438.7 401.9H444.5" fill="none"/><circle cx="441.6" cy="394.2" r="1.9" stroke="none"/></g>
<g stroke="#1f968b" stroke-width="0.75" fill="#1e9489"><path d="M447.4 378.1V390.9M444.5 378.1H450.3M444.5 390.9H450.3" fill="none"/><circle cx="447.4" cy="384.5" r="1.9" stroke="none"/></g>
<g stroke="#20a386" stroke-width="0.75" fill="#20a386"><path d="M453.16 390.3V405.3M450.26 390.3H456.06M450.26 405.3H456.06" fill="none"/><circle cx="453.16" cy="397.8" r="1.9" stroke="none"/></g>
<g stroke="#29af7f" stroke-width="0.75" fill="#29af7f"><path d="M458.87 371.5V381.5M455.97 371.5H461.77M455.97 381.5H461.77" fill="none"/><circle cx="458.87" cy="376.5" r="1.9" stroke="none"/></g>
<g stroke="#3dbc74" stroke-width="0.75" fill="#3dbc74"><path d="M464.54 381.5V390.7M461.64 381.5H467.44M461.64 390.7H467.44" fill="none"/><circle cx="464.54" cy="386.1" r="1.9" stroke="none"/></g>
<g stroke="#56c667" stroke-width="0.75" fill="#56c667"><path d="M470.17 394V401.6M467.27 394H473.07M467.27 401.6H473.07" fill="none"/><circle cx="470.17" cy="397.8" r="1.9" stroke="none"/></g>
<g stroke="#75d054" stroke-width="0.75" fill="#75d054"><path d="M475.75 394V401.6M472.85 394H478.65M472.85 401.6H478.65" fill="none"/><circle cx="475.75" cy="397.8" r="1.9" stroke="none"/></g>
<g stroke="#95d840" stroke-width="0.75" fill="#95d840"><path d="M481.29 383.9V390.7M478.39 383.9H484.19M478.39 390.7H484.19" fill="none"/><circle cx="481.29" cy="387.3" r="1.9" stroke="none"/></g>
<g stroke="#bade28" stroke-width="0.75" fill="#bade28"><path d="M486.78 384.8V391.4M483.88 384.8H489.68M483.88 391.4H489.68" fill="none"/><circle cx="486.78" cy="388.1" r="1.9" stroke="none"/></g>
<g stroke="#dde318" stroke-width="0.75" fill="#dde318"><path d="M492.23 388.1V394.3M489.33 388.1H495.13M489.33 394.3H495.13" fill="none"/><circle cx="492.23" cy="391.2" r="1.9" stroke="none"/></g>
<g stroke="#fde725" stroke-width="0.75" fill="#fde725"><path d="M497.64 395.8V399.8M494.74 395.8H500.54M494.74 399.8H500.54" fill="none"/><circle cx="497.64" cy="397.8" r="1.9" stroke="none"/></g>
<rect x="375.3" y="329.2" width="143.9" height="137.9" fill="none" stroke="#2a2a2a" stroke-width="1.1"/>
<path d="M387.4 467.1v5M447.2 467.1v5M507 467.1v5M375.3 329.2h-5.3M375.3 363.68h-5.3M375.3 398.15h-5.3M375.3 432.62h-5.3M375.3 467.1h-5.3" stroke="#262626" stroke-width="0.9" fill="none"/>
<text transform="translate(369.1 333.1) scale(0.91 1)" font-size="11.2" text-anchor="end" fill="#111" stroke="#111" stroke-width="0.2">90</text>
<text transform="translate(369.1 367.57) scale(0.91 1)" font-size="11.2" text-anchor="end" fill="#111" stroke="#111" stroke-width="0.2">45</text>
<text transform="translate(369.1 402.05) scale(0.91 1)" font-size="11.2" text-anchor="end" fill="#111" stroke="#111" stroke-width="0.2">0</text>
<text transform="translate(369.1 436.52) scale(0.91 1)" font-size="11.2" text-anchor="end" fill="#111" stroke="#111" stroke-width="0.2">-45</text>
<text transform="translate(369.1 471) scale(0.91 1)" font-size="11.2" text-anchor="end" fill="#111" stroke="#111" stroke-width="0.2">-90</text>
<text x="380.4" y="343.1" font-size="13.7" font-weight="bold" fill="#000">k</text>
</g>
<g>
<path d="M49.5 483.6V621.8M109.2 483.6V621.8M168.7 483.6V621.8M37.3 492.24H180.7M37.3 526.79H180.7M37.3 561.34H180.7M37.3 595.89H180.7" stroke="#e2e2e2" stroke-width="0.7" fill="none"/>
<g stroke="#ee1c25" stroke-width="0.75" fill="#ee1c25"><path d="M49.1 535.7V540.7M46.2 535.7H52M46.2 540.7H52" fill="none"/><ellipse cx="49.1" cy="538.2" rx="1.3" ry="1.76" stroke="none"/></g>
<g stroke="#ee1c25" stroke-width="0.75" fill="#ee1c25"><path d="M55.3 535.2V540.2M52.4 535.2H58.2M52.4 540.2H58.2" fill="none"/><ellipse cx="55.3" cy="537.7" rx="1.3" ry="1.76" stroke="none"/></g>
<g stroke="#ee1c25" stroke-width="0.75" fill="#ee1c25"><path d="M61.45 538.3V543.3M58.55 538.3H64.35M58.55 543.3H64.35" fill="none"/><ellipse cx="61.45" cy="540.8" rx="1.3" ry="1.76" stroke="none"/></g>
<g stroke="#ee1c25" stroke-width="0.75" fill="#ee1c25"><path d="M67.56 536.3V541.3M64.66 536.3H70.46M64.66 541.3H70.46" fill="none"/><ellipse cx="67.56" cy="538.8" rx="1.3" ry="1.76" stroke="none"/></g>
<g stroke="#ee1c25" stroke-width="0.75" fill="#ee1c25"><path d="M73.63 534.1V539.1M70.73 534.1H76.53M70.73 539.1H76.53" fill="none"/><ellipse cx="73.63" cy="536.6" rx="1.3" ry="1.76" stroke="none"/></g>
<g stroke="#ee1c25" stroke-width="0.75" fill="#ee1c25"><path d="M79.65 531.3V536.3M76.75 531.3H82.55M76.75 536.3H82.55" fill="none"/><ellipse cx="79.65" cy="533.8" rx="1.3" ry="1.76" stroke="none"/></g>
<g stroke="#ee1c25" stroke-width="0.75" fill="#ee1c25"><path d="M85.63 534.7V539.7M82.73 534.7H88.53M82.73 539.7H88.53" fill="none"/><ellipse cx="85.63" cy="537.2" rx="1.3" ry="1.76" stroke="none"/></g>
<g stroke="#ee1c25" stroke-width="0.75" fill="#ee1c25"><path d="M91.56 532.1V537.1M88.66 532.1H94.46M88.66 537.1H94.46" fill="none"/><ellipse cx="91.56" cy="534.6" rx="1.3" ry="1.76" stroke="none"/></g>
<g stroke="#ee1c25" stroke-width="0.75" fill="#ee1c25"><path d="M97.45 530.6V535.6M94.55 530.6H100.35M94.55 535.6H100.35" fill="none"/><ellipse cx="97.45" cy="533.1" rx="1.3" ry="1.76" stroke="none"/></g>
<g stroke="#ee1c25" stroke-width="0.75" fill="#ee1c25"><path d="M103.3 530.1V535.1M100.4 530.1H106.2M100.4 535.1H106.2" fill="none"/><ellipse cx="103.3" cy="532.6" rx="1.3" ry="1.76" stroke="none"/></g>
<g stroke="#ee1c25" stroke-width="0.75" fill="#ee1c25"><path d="M109.1 530.6V535.6M106.2 530.6H112M106.2 535.6H112" fill="none"/><ellipse cx="109.1" cy="533.1" rx="1.3" ry="1.76" stroke="none"/></g>
<g stroke="#ee1c25" stroke-width="0.75" fill="#ee1c25"><path d="M114.86 526.5V531.5M111.96 526.5H117.76M111.96 531.5H117.76" fill="none"/><ellipse cx="114.86" cy="529" rx="1.3" ry="1.76" stroke="none"/></g>
<g stroke="#ee1c25" stroke-width="0.75" fill="#ee1c25"><path d="M120.57 528.7V533.7M117.67 528.7H123.47M117.67 533.7H123.47" fill="none"/><ellipse cx="120.57" cy="531.2" rx="1.3" ry="1.76" stroke="none"/></g>
<g stroke="#ee1c25" stroke-width="0.75" fill="#ee1c25"><path d="M126.24 526.7V531.7M123.34 526.7H129.14M123.34 531.7H129.14" fill="none"/><ellipse cx="126.24" cy="529.2" rx="1.3" ry="1.76" stroke="none"/></g>
<g stroke="#ee1c25" stroke-width="0.75" fill="#ee1c25"><path d="M142.99 522.4V527.4M140.09 522.4H145.89M140.09 527.4H145.89" fill="none"/><ellipse cx="142.99" cy="524.9" rx="1.3" ry="1.76" stroke="none"/></g>
<g stroke="#440154" stroke-width="0.75" fill="#32003e"><path d="M49.1 535.2V540.2M46.2 535.2H52M46.2 540.2H52" fill="none"/><ellipse cx="49.1" cy="537.7" rx="1.3" ry="1.76" stroke="none"/></g>
<g stroke="#482475" stroke-width="0.75" fill="#381c5c"><path d="M61.45 530.6V535.6M58.55 530.6H64.35M58.55 535.6H64.35" fill="none"/><ellipse cx="61.45" cy="533.1" rx="1.3" ry="1.76" stroke="none"/></g>
<g stroke="#463480" stroke-width="0.75" fill="#382a67"><path d="M67.56 527.5V532.5M64.66 527.5H70.46M64.66 532.5H70.46" fill="none"/><ellipse cx="67.56" cy="530" rx="1.3" ry="1.76" stroke="none"/></g>
<g stroke="#414487" stroke-width="0.75" fill="#363870"><path d="M73.63 527.5V532.5M70.73 527.5H76.53M70.73 532.5H76.53" fill="none"/><ellipse cx="73.63" cy="530" rx="1.3" ry="1.76" stroke="none"/></g>
<g stroke="#3b528b" stroke-width="0.75" fill="#324677"><path d="M79.65 526.4V531.4M76.75 526.4H82.55M76.75 531.4H82.55" fill="none"/><ellipse cx="79.65" cy="528.9" rx="1.3" ry="1.76" stroke="none"/></g>
<g stroke="#355f8d" stroke-width="0.75" fill="#2e537c"><path d="M85.63 526.4V531.4M82.73 526.4H88.53M82.73 531.4H88.53" fill="none"/><ellipse cx="85.63" cy="528.9" rx="1.3" ry="1.76" stroke="none"/></g>
<g stroke="#2f6c8e" stroke-width="0.75" fill="#2a6180"><path d="M91.56 527V532M88.66 527H94.46M88.66 532H94.46" fill="none"/><ellipse cx="91.56" cy="529.5" rx="1.3" ry="1.76" stroke="none"/></g>
<g stroke="#2a788e" stroke-width="0.75" fill="#276f83"><path d="M97.45 525.5V530.5M94.55 525.5H100.35M94.55 530.5H100.35" fill="none"/><ellipse cx="97.45" cy="528" rx="1.3" ry="1.76" stroke="none"/></g>
<g stroke="#25848e" stroke-width="0.75" fill="#237d87"><path d="M103.3 529V534M100.4 529H106.2M100.4 534H106.2" fill="none"/><ellipse cx="103.3" cy="531.5" rx="1.3" ry="1.76" stroke="none"/></g>
<g stroke="#21918c" stroke-width="0.75" fill="#208d88"><path d="M109.1 525.5V530.5M106.2 525.5H112M106.2 530.5H112" fill="none"/><ellipse cx="109.1" cy="528" rx="1.3" ry="1.76" stroke="none"/></g>
<g stroke="#1e9c89" stroke-width="0.75" fill="#1e9c89"><path d="M114.86 521.5V526.5M111.96 521.5H117.76M111.96 526.5H117.76" fill="none"/><ellipse cx="114.86" cy="524" rx="1.3" ry="1.76" stroke="none"/></g>
<g stroke="#22a884" stroke-width="0.75" fill="#22a884"><path d="M120.57 521.9V526.9M117.67 521.9H123.47M117.67 526.9H123.47" fill="none"/><ellipse cx="120.57" cy="524.4" rx="1.3" ry="1.76" stroke="none"/></g>
<g stroke="#2fb47c" stroke-width="0.75" fill="#2fb47c"><path d="M126.24 521.3V526.3M123.34 521.3H129.14M123.34 526.3H129.14" fill="none"/><ellipse cx="126.24" cy="523.8" rx="1.3" ry="1.76" stroke="none"/></g>
<g stroke="#44bf70" stroke-width="0.75" fill="#44bf70"><path d="M131.87 517.8V522.8M128.97 517.8H134.77M128.97 522.8H134.77" fill="none"/><ellipse cx="131.87" cy="520.3" rx="1.3" ry="1.76" stroke="none"/></g>
<g stroke="#5ec962" stroke-width="0.75" fill="#5ec962"><path d="M137.45 519V524M134.55 519H140.35M134.55 524H140.35" fill="none"/><ellipse cx="137.45" cy="521.5" rx="1.3" ry="1.76" stroke="none"/></g>
<g stroke="#7ad151" stroke-width="0.75" fill="#7ad151"><path d="M142.99 518.7V523.7M140.09 518.7H145.89M140.09 523.7H145.89" fill="none"/><ellipse cx="142.99" cy="521.2" rx="1.3" ry="1.76" stroke="none"/></g>
<g stroke="#9bd93c" stroke-width="0.75" fill="#9bd93c"><path d="M148.48 515.2V520.2M145.58 515.2H151.38M145.58 520.2H151.38" fill="none"/><ellipse cx="148.48" cy="517.7" rx="1.3" ry="1.76" stroke="none"/></g>
<g stroke="#bddf26" stroke-width="0.75" fill="#bddf26"><path d="M153.93 515.2V520.2M151.03 515.2H156.83M151.03 520.2H156.83" fill="none"/><ellipse cx="153.93" cy="517.7" rx="1.3" ry="1.76" stroke="none"/></g>
<g stroke="#dfe318" stroke-width="0.75" fill="#dfe318"><path d="M159.34 514.7V519.7M156.44 514.7H162.24M156.44 519.7H162.24" fill="none"/><ellipse cx="159.34" cy="517.2" rx="1.3" ry="1.76" stroke="none"/></g>
<g stroke="#fde725" stroke-width="0.75" fill="#fde725"><path d="M164.7 514.1V519.1M161.8 514.1H167.6M161.8 519.1H167.6" fill="none"/><ellipse cx="164.7" cy="516.6" rx="1.3" ry="1.76" stroke="none"/></g>
<path d="M48.9 537.7L164.3 516.9" stroke="#1a1a1a" stroke-width="0.85" fill="none" stroke-linejoin="round"/>
<rect x="37.3" y="483.6" width="143.4" height="138.2" fill="none" stroke="#7a7a7a" stroke-width="1.25"/>
<path d="M49.5 621.8v5M109.2 621.8v5M168.7 621.8v5M37.3 492.24h-5.3M37.3 526.79h-5.3M37.3 561.34h-5.3M37.3 595.89h-5.3" stroke="#262626" stroke-width="0.9" fill="none"/>
<text transform="translate(30 496.14) scale(0.91 1)" font-size="11.2" text-anchor="end" fill="#111" stroke="#111" stroke-width="0.2">2.2</text>
<text transform="translate(30 530.69) scale(0.91 1)" font-size="11.2" text-anchor="end" fill="#111" stroke="#111" stroke-width="0.2">2.0</text>
<text transform="translate(30 565.24) scale(0.91 1)" font-size="11.2" text-anchor="end" fill="#111" stroke="#111" stroke-width="0.2">1.8</text>
<text transform="translate(30 599.79) scale(0.91 1)" font-size="11.2" text-anchor="end" fill="#111" stroke="#111" stroke-width="0.2">1.6</text>
<text transform="translate(49.3 636.7) scale(0.93 1)" font-size="11.2" text-anchor="middle" fill="#111" stroke="#111" stroke-width="0.2">0.00</text>
<text transform="translate(109 636.7) scale(0.93 1)" font-size="11.2" text-anchor="middle" fill="#111" stroke="#111" stroke-width="0.2">0.25</text>
<text transform="translate(168.5 636.7) scale(0.93 1)" font-size="11.2" text-anchor="middle" fill="#111" stroke="#111" stroke-width="0.2">0.50</text>
<text x="43.8" y="497.8" font-size="13.7" font-weight="bold" fill="#000">d</text>
</g>
<g>
<path d="M219.2 483.6V621.8M278.8 483.6V621.8M338.4 483.6V621.8M207 511.24H350.7M207 548.09H350.7M207 584.95H350.7" stroke="#e2e2e2" stroke-width="0.7" fill="none"/>
<g stroke="#ee1c25" stroke-width="0.75" fill="#ee1c25"><path d="M219 611.2V618M216.1 611.2H221.9M216.1 618H221.9" fill="none"/><ellipse cx="219" cy="614.6" rx="1.3" ry="1.76" stroke="none"/></g>
<g stroke="#ee1c25" stroke-width="0.75" fill="#ee1c25"><path d="M225.2 611.2V618M222.3 611.2H228.1M222.3 618H228.1" fill="none"/><ellipse cx="225.2" cy="614.6" rx="1.3" ry="1.76" stroke="none"/></g>
<g stroke="#ee1c25" stroke-width="0.75" fill="#ee1c25"><path d="M231.35 610.4V617.2M228.45 610.4H234.25M228.45 617.2H234.25" fill="none"/><ellipse cx="231.35" cy="613.8" rx="1.3" ry="1.76" stroke="none"/></g>
<g stroke="#ee1c25" stroke-width="0.75" fill="#ee1c25"><path d="M237.46 612V618.8M234.56 612H240.36M234.56 618.8H240.36" fill="none"/><ellipse cx="237.46" cy="615.4" rx="1.3" ry="1.76" stroke="none"/></g>
<g stroke="#ee1c25" stroke-width="0.75" fill="#ee1c25"><path d="M243.53 610.4V617.2M240.63 610.4H246.43M240.63 617.2H246.43" fill="none"/><ellipse cx="243.53" cy="613.8" rx="1.3" ry="1.76" stroke="none"/></g>
<g stroke="#ee1c25" stroke-width="0.75" fill="#ee1c25"><path d="M249.55 610.1V616.9M246.65 610.1H252.45M246.65 616.9H252.45" fill="none"/><ellipse cx="249.55" cy="613.5" rx="1.3" ry="1.76" stroke="none"/></g>
<g stroke="#ee1c25" stroke-width="0.75" fill="#ee1c25"><path d="M255.53 612V618.8M252.63 612H258.43M252.63 618.8H258.43" fill="none"/><ellipse cx="255.53" cy="615.4" rx="1.3" ry="1.76" stroke="none"/></g>
<g stroke="#ee1c25" stroke-width="0.75" fill="#ee1c25"><path d="M261.46 612V618.8M258.56 612H264.36M258.56 618.8H264.36" fill="none"/><ellipse cx="261.46" cy="615.4" rx="1.3" ry="1.76" stroke="none"/></g>
<g stroke="#ee1c25" stroke-width="0.75" fill="#ee1c25"><path d="M267.35 610.4V617.2M264.45 610.4H270.25M264.45 617.2H270.25" fill="none"/><ellipse cx="267.35" cy="613.8" rx="1.3" ry="1.76" stroke="none"/></g>
<g stroke="#ee1c25" stroke-width="0.75" fill="#ee1c25"><path d="M273.2 609.6V616.4M270.3 609.6H276.1M270.3 616.4H276.1" fill="none"/><ellipse cx="273.2" cy="613" rx="1.3" ry="1.76" stroke="none"/></g>
<g stroke="#ee1c25" stroke-width="0.75" fill="#ee1c25"><path d="M279 610.4V617.2M276.1 610.4H281.9M276.1 617.2H281.9" fill="none"/><ellipse cx="279" cy="613.8" rx="1.3" ry="1.76" stroke="none"/></g>
<g stroke="#ee1c25" stroke-width="0.75" fill="#ee1c25"><path d="M284.76 608.1V614.9M281.86 608.1H287.66M281.86 614.9H287.66" fill="none"/><ellipse cx="284.76" cy="611.5" rx="1.3" ry="1.76" stroke="none"/></g>
<g stroke="#ee1c25" stroke-width="0.75" fill="#ee1c25"><path d="M290.47 609.7V616.5M287.57 609.7H293.37M287.57 616.5H293.37" fill="none"/><ellipse cx="290.47" cy="613.1" rx="1.3" ry="1.76" stroke="none"/></g>
<g stroke="#ee1c25" stroke-width="0.75" fill="#ee1c25"><path d="M296.14 608.1V614.9M293.24 608.1H299.04M293.24 614.9H299.04" fill="none"/><ellipse cx="296.14" cy="611.5" rx="1.3" ry="1.76" stroke="none"/></g>
<g stroke="#ee1c25" stroke-width="0.75" fill="#ee1c25"><path d="M312.89 608.9V615.7M309.99 608.9H315.79M309.99 615.7H315.79" fill="none"/><ellipse cx="312.89" cy="612.3" rx="1.3" ry="1.76" stroke="none"/></g>
<g stroke="#440154" stroke-width="0.75" fill="#32003e"><path d="M219 605.8V612.6M216.1 605.8H221.9M216.1 612.6H221.9" fill="none"/><ellipse cx="219" cy="609.2" rx="1.3" ry="1.76" stroke="none"/></g>
<g stroke="#482475" stroke-width="0.75" fill="#381c5c"><path d="M231.35 605.4V612.2M228.45 605.4H234.25M228.45 612.2H234.25" fill="none"/><ellipse cx="231.35" cy="608.8" rx="1.3" ry="1.76" stroke="none"/></g>
<g stroke="#463480" stroke-width="0.75" fill="#382a67"><path d="M237.46 606.6V613.4M234.56 606.6H240.36M234.56 613.4H240.36" fill="none"/><ellipse cx="237.46" cy="610" rx="1.3" ry="1.76" stroke="none"/></g>
<g stroke="#414487" stroke-width="0.75" fill="#363870"><path d="M243.53 605.1V611.9M240.63 605.1H246.43M240.63 611.9H246.43" fill="none"/><ellipse cx="243.53" cy="608.5" rx="1.3" ry="1.76" stroke="none"/></g>
<g stroke="#3b528b" stroke-width="0.75" fill="#324677"><path d="M249.55 606.6V613.4M246.65 606.6H252.45M246.65 613.4H252.45" fill="none"/><ellipse cx="249.55" cy="610" rx="1.3" ry="1.76" stroke="none"/></g>
<g stroke="#355f8d" stroke-width="0.75" fill="#2e537c"><path d="M255.53 605.1V611.9M252.63 605.1H258.43M252.63 611.9H258.43" fill="none"/><ellipse cx="255.53" cy="608.5" rx="1.3" ry="1.76" stroke="none"/></g>
<g stroke="#2f6c8e" stroke-width="0.75" fill="#2a6180"><path d="M261.46 605.1V611.9M258.56 605.1H264.36M258.56 611.9H264.36" fill="none"/><ellipse cx="261.46" cy="608.5" rx="1.3" ry="1.76" stroke="none"/></g>
<g stroke="#2a788e" stroke-width="0.75" fill="#276f83"><path d="M267.35 602.8V609.6M264.45 602.8H270.25M264.45 609.6H270.25" fill="none"/><ellipse cx="267.35" cy="606.2" rx="1.3" ry="1.76" stroke="none"/></g>
<g stroke="#25848e" stroke-width="0.75" fill="#237d87"><path d="M273.2 609.5V616.3M270.3 609.5H276.1M270.3 616.3H276.1" fill="none"/><ellipse cx="273.2" cy="612.9" rx="1.3" ry="1.76" stroke="none"/></g>
<g stroke="#21918c" stroke-width="0.75" fill="#208d88"><path d="M279 610.4V617.2M276.1 610.4H281.9M276.1 617.2H281.9" fill="none"/><ellipse cx="279" cy="613.8" rx="1.3" ry="1.76" stroke="none"/></g>
<g stroke="#1e9c89" stroke-width="0.75" fill="#1e9c89"><path d="M284.76 607.8V614.6M281.86 607.8H287.66M281.86 614.6H287.66" fill="none"/><ellipse cx="284.76" cy="611.2" rx="1.3" ry="1.76" stroke="none"/></g>
<g stroke="#22a884" stroke-width="0.75" fill="#22a884"><path d="M290.47 608.9V615.7M287.57 608.9H293.37M287.57 615.7H293.37" fill="none"/><ellipse cx="290.47" cy="612.3" rx="1.3" ry="1.76" stroke="none"/></g>
<g stroke="#2fb47c" stroke-width="0.75" fill="#2fb47c"><path d="M296.14 607.4V614.2M293.24 607.4H299.04M293.24 614.2H299.04" fill="none"/><ellipse cx="296.14" cy="610.8" rx="1.3" ry="1.76" stroke="none"/></g>
<g stroke="#44bf70" stroke-width="0.75" fill="#44bf70"><path d="M301.77 606.9V613.7M298.87 606.9H304.67M298.87 613.7H304.67" fill="none"/><ellipse cx="301.77" cy="610.3" rx="1.3" ry="1.76" stroke="none"/></g>
<g stroke="#5ec962" stroke-width="0.75" fill="#5ec962"><path d="M307.35 610.9V617.7M304.45 610.9H310.25M304.45 617.7H310.25" fill="none"/><ellipse cx="307.35" cy="614.3" rx="1.3" ry="1.76" stroke="none"/></g>
<g stroke="#7ad151" stroke-width="0.75" fill="#7ad151"><path d="M312.89 606.3V613.1M309.99 606.3H315.79M309.99 613.1H315.79" fill="none"/><ellipse cx="312.89" cy="609.7" rx="1.3" ry="1.76" stroke="none"/></g>
<g stroke="#9bd93c" stroke-width="0.75" fill="#9bd93c"><path d="M318.38 606.9V613.7M315.48 606.9H321.28M315.48 613.7H321.28" fill="none"/><ellipse cx="318.38" cy="610.3" rx="1.3" ry="1.76" stroke="none"/></g>
<g stroke="#bddf26" stroke-width="0.75" fill="#bddf26"><path d="M323.83 609.7V616.5M320.93 609.7H326.73M320.93 616.5H326.73" fill="none"/><ellipse cx="323.83" cy="613.1" rx="1.3" ry="1.76" stroke="none"/></g>
<g stroke="#dfe318" stroke-width="0.75" fill="#dfe318"><path d="M329.24 607.4V614.2M326.34 607.4H332.14M326.34 614.2H332.14" fill="none"/><ellipse cx="329.24" cy="610.8" rx="1.3" ry="1.76" stroke="none"/></g>
<g stroke="#fde725" stroke-width="0.75" fill="#fde725"><path d="M334.6 610V616.8M331.7 610H337.5M331.7 616.8H337.5" fill="none"/><ellipse cx="334.6" cy="613.4" rx="1.3" ry="1.76" stroke="none"/></g>
<path d="M219 611.6L333.8 611.8" stroke="#1a1a1a" stroke-width="0.85" fill="none" stroke-linejoin="round"/>
<rect x="207" y="483.6" width="143.7" height="138.2" fill="none" stroke="#7a7a7a" stroke-width="1.25"/>
<path d="M219.2 621.8v5M278.8 621.8v5M338.4 621.8v5M207 511.24h-5.3M207 548.09h-5.3M207 584.95h-5.3M207 621.8h-5.3" stroke="#262626" stroke-width="0.9" fill="none"/>
<text transform="translate(200.8 515.14) scale(0.91 1)" font-size="11.2" text-anchor="end" fill="#111" stroke="#111" stroke-width="0.2">0.6</text>
<text transform="translate(200.8 551.99) scale(0.91 1)" font-size="11.2" text-anchor="end" fill="#111" stroke="#111" stroke-width="0.2">0.4</text>
<text transform="translate(200.8 588.85) scale(0.91 1)" font-size="11.2" text-anchor="end" fill="#111" stroke="#111" stroke-width="0.2">0.2</text>
<text transform="translate(200.8 625.7) scale(0.91 1)" font-size="11.2" text-anchor="end" fill="#111" stroke="#111" stroke-width="0.2">0.0</text>
<text transform="translate(219 636.7) scale(0.93 1)" font-size="11.2" text-anchor="middle" fill="#111" stroke="#111" stroke-width="0.2">0.00</text>
<text transform="translate(278.6 636.7) scale(0.93 1)" font-size="11.2" text-anchor="middle" fill="#111" stroke="#111" stroke-width="0.2">0.25</text>
<text transform="translate(338.2 636.7) scale(0.93 1)" font-size="11.2" text-anchor="middle" fill="#111" stroke="#111" stroke-width="0.2">0.50</text>
<text x="213.4" y="497.8" font-size="13.7" font-weight="bold" fill="#000">h</text>
</g>
<g>
<path d="M387.4 483.6V621.8M447.2 483.6V621.8M507 483.6V621.8M375.3 518.15H519.2M375.3 552.7H519.2M375.3 587.25H519.2" stroke="#e2e2e2" stroke-width="0.7" fill="none"/>
<g stroke="#440154" stroke-width="0.75" fill="#32003e"><path d="M387.4 495.2V507.2M384.5 495.2H390.3M384.5 507.2H390.3" fill="none"/><circle cx="387.4" cy="501.2" r="1.9" stroke="none"/></g>
<g stroke="#482475" stroke-width="0.75" fill="#381c5c"><path d="M399.75 497.3V508.9M396.85 497.3H402.65M396.85 508.9H402.65" fill="none"/><circle cx="399.75" cy="503.1" r="1.9" stroke="none"/></g>
<g stroke="#463480" stroke-width="0.75" fill="#382a67"><path d="M405.86 499.2V511.6M402.96 499.2H408.76M402.96 511.6H408.76" fill="none"/><circle cx="405.86" cy="505.4" r="1.9" stroke="none"/></g>
<g stroke="#414487" stroke-width="0.75" fill="#363870"><path d="M411.93 496V507.6M409.03 496H414.83M409.03 507.6H414.83" fill="none"/><circle cx="411.93" cy="501.8" r="1.9" stroke="none"/></g>
<g stroke="#3b528b" stroke-width="0.75" fill="#324677"><path d="M417.95 492V503.4M415.05 492H420.85M415.05 503.4H420.85" fill="none"/><circle cx="417.95" cy="497.7" r="1.9" stroke="none"/></g>
<g stroke="#355f8d" stroke-width="0.75" fill="#2e537c"><path d="M423.93 498.3V509.3M421.03 498.3H426.83M421.03 509.3H426.83" fill="none"/><circle cx="423.93" cy="503.8" r="1.9" stroke="none"/></g>
<g stroke="#2f6c8e" stroke-width="0.75" fill="#2a6180"><path d="M429.86 492.3V503.1M426.96 492.3H432.76M426.96 503.1H432.76" fill="none"/><circle cx="429.86" cy="497.7" r="1.9" stroke="none"/></g>
<g stroke="#2a788e" stroke-width="0.75" fill="#276f83"><path d="M435.75 495.2V504.2M432.85 495.2H438.65M432.85 504.2H438.65" fill="none"/><circle cx="435.75" cy="499.7" r="1.9" stroke="none"/></g>
<g stroke="#25848e" stroke-width="0.75" fill="#237d87"><path d="M441.6 493.7V506.3M438.7 493.7H444.5M438.7 506.3H444.5" fill="none"/><circle cx="441.6" cy="500" r="1.9" stroke="none"/></g>
<g stroke="#21918c" stroke-width="0.75" fill="#208d88"><path d="M447.4 490V510M444.5 490H450.3M444.5 510H450.3" fill="none"/><circle cx="447.4" cy="500" r="1.9" stroke="none"/></g>
<g stroke="#1e9c89" stroke-width="0.75" fill="#1e9c89"><path d="M453.16 489.1V501.1M450.26 489.1H456.06M450.26 501.1H456.06" fill="none"/><circle cx="453.16" cy="495.1" r="1.9" stroke="none"/></g>
<g stroke="#22a884" stroke-width="0.75" fill="#22a884"><path d="M458.87 486.8V501.2M455.97 486.8H461.77M455.97 501.2H461.77" fill="none"/><circle cx="458.87" cy="494" r="1.9" stroke="none"/></g>
<g stroke="#2fb47c" stroke-width="0.75" fill="#2fb47c"><path d="M464.54 495.9V507.1M461.64 495.9H467.44M461.64 507.1H467.44" fill="none"/><circle cx="464.54" cy="501.5" r="1.9" stroke="none"/></g>
<g stroke="#44bf70" stroke-width="0.75" fill="#44bf70"><path d="M470.17 494.6V505.4M467.27 494.6H473.07M467.27 505.4H473.07" fill="none"/><circle cx="470.17" cy="500" r="1.9" stroke="none"/></g>
<g stroke="#5ec962" stroke-width="0.75" fill="#5ec962"><path d="M475.75 487.3V502.9M472.85 487.3H478.65M472.85 502.9H478.65" fill="none"/><circle cx="475.75" cy="495.1" r="1.9" stroke="none"/></g>
<g stroke="#7ad151" stroke-width="0.75" fill="#7ad151"><path d="M481.29 496.6V508M478.39 496.6H484.19M478.39 508H484.19" fill="none"/><circle cx="481.29" cy="502.3" r="1.9" stroke="none"/></g>
<g stroke="#9bd93c" stroke-width="0.75" fill="#9bd93c"><path d="M486.78 492.2V503.2M483.88 492.2H489.68M483.88 503.2H489.68" fill="none"/><circle cx="486.78" cy="497.7" r="1.9" stroke="none"/></g>
<g stroke="#bddf26" stroke-width="0.75" fill="#bddf26"><path d="M492.23 496.6V512M489.33 496.6H495.13M489.33 512H495.13" fill="none"/><circle cx="492.23" cy="504.3" r="1.9" stroke="none"/></g>
<g stroke="#dfe318" stroke-width="0.75" fill="#dfe318"><path d="M497.64 495.3V504.1M494.74 495.3H500.54M494.74 504.1H500.54" fill="none"/><circle cx="497.64" cy="499.7" r="1.9" stroke="none"/></g>
<g stroke="#fde725" stroke-width="0.75" fill="#fde725"><path d="M503 485.4V503M500.1 485.4H505.9M500.1 503H505.9" fill="none"/><circle cx="503" cy="494.2" r="1.9" stroke="none"/></g>
<rect x="375.3" y="483.6" width="143.9" height="138.2" fill="none" stroke="#222222" stroke-width="1.1"/>
<path d="M387.4 621.8v5M447.2 621.8v5M507 621.8v5M375.3 483.6h-5.3M375.3 518.15h-5.3M375.3 552.7h-5.3M375.3 587.25h-5.3M375.3 621.8h-5.3" stroke="#262626" stroke-width="0.9" fill="none"/>
<text transform="translate(369.1 487.5) scale(0.91 1)" font-size="11.2" text-anchor="end" fill="#111" stroke="#111" stroke-width="0.2">90</text>
<text transform="translate(369.1 522.05) scale(0.91 1)" font-size="11.2" text-anchor="end" fill="#111" stroke="#111" stroke-width="0.2">45</text>
<text transform="translate(369.1 556.6) scale(0.91 1)" font-size="11.2" text-anchor="end" fill="#111" stroke="#111" stroke-width="0.2">0</text>
<text transform="translate(369.1 591.15) scale(0.91 1)" font-size="11.2" text-anchor="end" fill="#111" stroke="#111" stroke-width="0.2">-45</text>
<text transform="translate(369.1 625.7) scale(0.91 1)" font-size="11.2" text-anchor="end" fill="#111" stroke="#111" stroke-width="0.2">-90</text>
<text transform="translate(387.2 636.7) scale(0.93 1)" font-size="11.2" text-anchor="middle" fill="#111" stroke="#111" stroke-width="0.2">0.00</text>
<text transform="translate(447 636.7) scale(0.93 1)" font-size="11.2" text-anchor="middle" fill="#111" stroke="#111" stroke-width="0.2">0.25</text>
<text transform="translate(506.8 636.7) scale(0.93 1)" font-size="11.2" text-anchor="middle" fill="#111" stroke="#111" stroke-width="0.2">0.50</text>
<text x="380.6" y="497.8" font-size="13.7" font-weight="bold" fill="#000">l</text>
</g>
<text x="100.4" y="11.8" font-size="13.5" font-style="italic" fill="#111" stroke="#111" stroke-width="0.15">A/χ</text>
<text x="120.5" y="16.9" font-size="7" fill="#111">0</text>
<text x="122.2" y="5.8" font-size="7" fill="#111">(2)</text>
<text x="265.2" y="11.8" font-size="13.5" font-style="italic" fill="#111" stroke="#111" stroke-width="0.15">B/χ</text>
<text x="285.3" y="16.9" font-size="7" fill="#111">0</text>
<text x="287" y="5.8" font-size="7" fill="#111">(2)</text>
<text transform="translate(436.3 13.5) scale(1 1.3)" font-size="13.2" font-style="italic" fill="#111" stroke="#111" stroke-width="0.15">θ</text>
<text x="447.7" y="12.3" font-size="14" fill="#111" stroke="#111" stroke-width="0.15" textLength="12" lengthAdjust="spacingAndGlyphs">[°]</text>
<text x="221" y="650.7" font-size="12" fill="#111" stroke="#111" stroke-width="0.15" textLength="91.4" lengthAdjust="spacingAndGlyphs">Applied Strain [%]</text>
<text transform="translate(10.3 98.1) rotate(-90)" font-size="14.8" fill="#111" stroke="#111" stroke-width="0.15" textLength="25.9" lengthAdjust="spacingAndGlyphs">MoS</text>
<text transform="translate(13.2 71.2) rotate(-90)" font-size="8.3" fill="#111" stroke="#111" stroke-width="0.2">2</text>
<text transform="translate(10.3 255.4) rotate(-90)" font-size="14.8" fill="#111" stroke="#111" stroke-width="0.15" textLength="33.4" lengthAdjust="spacingAndGlyphs">MoSe</text>
<text transform="translate(13.2 220.9) rotate(-90)" font-size="8.3" fill="#111" stroke="#111" stroke-width="0.2">2</text>
<text transform="translate(10.3 404) rotate(-90)" font-size="14.8" fill="#111" stroke="#111" stroke-width="0.15" textLength="19.6" lengthAdjust="spacingAndGlyphs">WS</text>
<text transform="translate(13.2 383.6) rotate(-90)" font-size="8.3" fill="#111" stroke="#111" stroke-width="0.2">2</text>
<text transform="translate(10.3 563.3) rotate(-90)" font-size="14.8" fill="#111" stroke="#111" stroke-width="0.15" textLength="26.2" lengthAdjust="spacingAndGlyphs">WSe</text>
<text transform="translate(13.2 536.5) rotate(-90)" font-size="8.3" fill="#111" stroke="#111" stroke-width="0.2">2</text>
</svg>
</body></html>
